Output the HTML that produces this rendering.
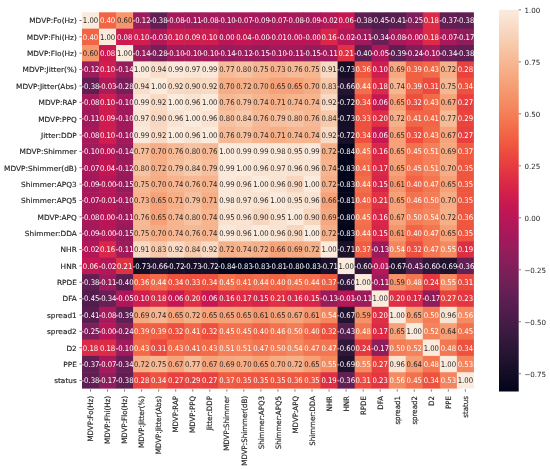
<!DOCTYPE html>
<html><head><meta charset="utf-8"><title>Correlation heatmap</title>
<style>html,body{margin:0;padding:0;background:#fff;width:550px;height:469px;overflow:hidden}svg{display:block;filter:blur(0.3px)}</style>
</head><body>
<svg width="550" height="469" viewBox="0 0 550 469">
<rect width="550" height="469" fill="#fff"/>
<rect x="82.00" y="12.30" width="17.64" height="16.96" fill="#faebdd"/>
<rect x="99.04" y="12.30" width="17.64" height="16.96" fill="#f16445"/>
<rect x="116.08" y="12.30" width="17.64" height="16.96" fill="#f5966c"/>
<rect x="133.12" y="12.30" width="17.64" height="16.96" fill="#9c1b5b"/>
<rect x="150.16" y="12.30" width="17.64" height="16.96" fill="#601f52"/>
<rect x="167.20" y="12.30" width="17.64" height="16.96" fill="#a6195a"/>
<rect x="184.23" y="12.30" width="17.64" height="16.96" fill="#9f1a5b"/>
<rect x="201.27" y="12.30" width="17.64" height="16.96" fill="#a6195a"/>
<rect x="218.31" y="12.30" width="17.64" height="16.96" fill="#a11a5b"/>
<rect x="235.35" y="12.30" width="17.64" height="16.96" fill="#a8185a"/>
<rect x="252.39" y="12.30" width="17.64" height="16.96" fill="#a3195b"/>
<rect x="269.43" y="12.30" width="17.64" height="16.96" fill="#a8185a"/>
<rect x="286.47" y="12.30" width="17.64" height="16.96" fill="#a6195a"/>
<rect x="303.51" y="12.30" width="17.64" height="16.96" fill="#a3195b"/>
<rect x="320.55" y="12.30" width="17.64" height="16.96" fill="#b41658"/>
<rect x="337.59" y="12.30" width="17.64" height="16.96" fill="#c51852"/>
<rect x="354.63" y="12.30" width="17.64" height="16.96" fill="#601f52"/>
<rect x="371.67" y="12.30" width="17.64" height="16.96" fill="#501d4c"/>
<rect x="388.70" y="12.30" width="17.64" height="16.96" fill="#591e50"/>
<rect x="405.74" y="12.30" width="17.64" height="16.96" fill="#7d1f5a"/>
<rect x="422.78" y="12.30" width="17.64" height="16.96" fill="#dc2b46"/>
<rect x="439.82" y="12.30" width="17.64" height="16.96" fill="#611f53"/>
<rect x="456.86" y="12.30" width="17.04" height="16.96" fill="#601f52"/>
<rect x="82.00" y="28.66" width="17.64" height="16.96" fill="#f16445"/>
<rect x="99.04" y="28.66" width="17.64" height="16.96" fill="#faebdd"/>
<rect x="116.08" y="28.66" width="17.64" height="16.96" fill="#ca1a50"/>
<rect x="133.12" y="28.66" width="17.64" height="16.96" fill="#ce1d4e"/>
<rect x="150.16" y="28.66" width="17.64" height="16.96" fill="#b21758"/>
<rect x="167.20" y="28.66" width="17.64" height="16.96" fill="#ce1d4e"/>
<rect x="184.23" y="28.66" width="17.64" height="16.96" fill="#cd1c4e"/>
<rect x="201.27" y="28.66" width="17.64" height="16.96" fill="#ce1d4e"/>
<rect x="218.31" y="28.66" width="17.64" height="16.96" fill="#b91657"/>
<rect x="235.35" y="28.66" width="17.64" height="16.96" fill="#c21753"/>
<rect x="252.39" y="28.66" width="17.64" height="16.96" fill="#b91657"/>
<rect x="269.43" y="28.66" width="17.64" height="16.96" fill="#b71657"/>
<rect x="286.47" y="28.66" width="17.64" height="16.96" fill="#b91657"/>
<rect x="303.51" y="28.66" width="17.64" height="16.96" fill="#b91657"/>
<rect x="320.55" y="28.66" width="17.64" height="16.96" fill="#d82748"/>
<rect x="337.59" y="28.66" width="17.64" height="16.96" fill="#b41658"/>
<rect x="354.63" y="28.66" width="17.64" height="16.96" fill="#9f1a5b"/>
<rect x="371.67" y="28.66" width="17.64" height="16.96" fill="#691f55"/>
<rect x="388.70" y="28.66" width="17.64" height="16.96" fill="#a6195a"/>
<rect x="405.74" y="28.66" width="17.64" height="16.96" fill="#b91657"/>
<rect x="422.78" y="28.66" width="17.64" height="16.96" fill="#dc2b46"/>
<rect x="439.82" y="28.66" width="17.64" height="16.96" fill="#a8185a"/>
<rect x="456.86" y="28.66" width="17.04" height="16.96" fill="#901d5b"/>
<rect x="82.00" y="45.02" width="17.64" height="16.96" fill="#f5966c"/>
<rect x="99.04" y="45.02" width="17.64" height="16.96" fill="#ca1a50"/>
<rect x="116.08" y="45.02" width="17.64" height="16.96" fill="#faebdd"/>
<rect x="133.12" y="45.02" width="17.64" height="16.96" fill="#971c5b"/>
<rect x="150.16" y="45.02" width="17.64" height="16.96" fill="#761f58"/>
<rect x="167.20" y="45.02" width="17.64" height="16.96" fill="#a11a5b"/>
<rect x="184.23" y="45.02" width="17.64" height="16.96" fill="#a11a5b"/>
<rect x="201.27" y="45.02" width="17.64" height="16.96" fill="#a11a5b"/>
<rect x="218.31" y="45.02" width="17.64" height="16.96" fill="#971c5b"/>
<rect x="235.35" y="45.02" width="17.64" height="16.96" fill="#9c1b5b"/>
<rect x="252.39" y="45.02" width="17.64" height="16.96" fill="#951c5b"/>
<rect x="269.43" y="45.02" width="17.64" height="16.96" fill="#a11a5b"/>
<rect x="286.47" y="45.02" width="17.64" height="16.96" fill="#9f1a5b"/>
<rect x="303.51" y="45.02" width="17.64" height="16.96" fill="#951c5b"/>
<rect x="320.55" y="45.02" width="17.64" height="16.96" fill="#9f1a5b"/>
<rect x="337.59" y="45.02" width="17.64" height="16.96" fill="#e03143"/>
<rect x="354.63" y="45.02" width="17.64" height="16.96" fill="#5b1e51"/>
<rect x="371.67" y="45.02" width="17.64" height="16.96" fill="#ad1759"/>
<rect x="388.70" y="45.02" width="17.64" height="16.96" fill="#5e1f52"/>
<rect x="405.74" y="45.02" width="17.64" height="16.96" fill="#811e5a"/>
<rect x="422.78" y="45.02" width="17.64" height="16.96" fill="#a11a5b"/>
<rect x="439.82" y="45.02" width="17.64" height="16.96" fill="#691f55"/>
<rect x="456.86" y="45.02" width="17.04" height="16.96" fill="#601f52"/>
<rect x="82.00" y="61.38" width="17.64" height="16.96" fill="#9c1b5b"/>
<rect x="99.04" y="61.38" width="17.64" height="16.96" fill="#ce1d4e"/>
<rect x="116.08" y="61.38" width="17.64" height="16.96" fill="#971c5b"/>
<rect x="133.12" y="61.38" width="17.64" height="16.96" fill="#faebdd"/>
<rect x="150.16" y="61.38" width="17.64" height="16.96" fill="#f9dfcb"/>
<rect x="167.20" y="61.38" width="17.64" height="16.96" fill="#fae9da"/>
<rect x="184.23" y="61.38" width="17.64" height="16.96" fill="#f9e5d4"/>
<rect x="201.27" y="61.38" width="17.64" height="16.96" fill="#fae9da"/>
<rect x="218.31" y="61.38" width="17.64" height="16.96" fill="#f6bb97"/>
<rect x="235.35" y="61.38" width="17.64" height="16.96" fill="#f7c2a2"/>
<rect x="252.39" y="61.38" width="17.64" height="16.96" fill="#f6b893"/>
<rect x="269.43" y="61.38" width="17.64" height="16.96" fill="#f6b38d"/>
<rect x="286.47" y="61.38" width="17.64" height="16.96" fill="#f6b995"/>
<rect x="303.51" y="61.38" width="17.64" height="16.96" fill="#f6b893"/>
<rect x="320.55" y="61.38" width="17.64" height="16.96" fill="#f8d9c3"/>
<rect x="337.59" y="61.38" width="17.64" height="16.96" fill="#160e27"/>
<rect x="354.63" y="61.38" width="17.64" height="16.96" fill="#ef5840"/>
<rect x="371.67" y="61.38" width="17.64" height="16.96" fill="#ce1d4e"/>
<rect x="388.70" y="61.38" width="17.64" height="16.96" fill="#f6a981"/>
<rect x="405.74" y="61.38" width="17.64" height="16.96" fill="#f06043"/>
<rect x="422.78" y="61.38" width="17.64" height="16.96" fill="#f26b49"/>
<rect x="439.82" y="61.38" width="17.64" height="16.96" fill="#f6b089"/>
<rect x="456.86" y="61.38" width="17.04" height="16.96" fill="#e9423e"/>
<rect x="82.00" y="77.74" width="17.64" height="16.96" fill="#601f52"/>
<rect x="99.04" y="77.74" width="17.64" height="16.96" fill="#b21758"/>
<rect x="116.08" y="77.74" width="17.64" height="16.96" fill="#761f58"/>
<rect x="133.12" y="77.74" width="17.64" height="16.96" fill="#f9dfcb"/>
<rect x="150.16" y="77.74" width="17.64" height="16.96" fill="#faebdd"/>
<rect x="167.20" y="77.74" width="17.64" height="16.96" fill="#f8dac5"/>
<rect x="184.23" y="77.74" width="17.64" height="16.96" fill="#f8d7c0"/>
<rect x="201.27" y="77.74" width="17.64" height="16.96" fill="#f8dac5"/>
<rect x="218.31" y="77.74" width="17.64" height="16.96" fill="#f6ad85"/>
<rect x="235.35" y="77.74" width="17.64" height="16.96" fill="#f6b089"/>
<rect x="252.39" y="77.74" width="17.64" height="16.96" fill="#f6ad85"/>
<rect x="269.43" y="77.74" width="17.64" height="16.96" fill="#f6a178"/>
<rect x="286.47" y="77.74" width="17.64" height="16.96" fill="#f6a178"/>
<rect x="303.51" y="77.74" width="17.64" height="16.96" fill="#f6ad85"/>
<rect x="320.55" y="77.74" width="17.64" height="16.96" fill="#f7c9aa"/>
<rect x="337.59" y="77.74" width="17.64" height="16.96" fill="#241432"/>
<rect x="354.63" y="77.74" width="17.64" height="16.96" fill="#f26d4b"/>
<rect x="371.67" y="77.74" width="17.64" height="16.96" fill="#dc2b46"/>
<rect x="388.70" y="77.74" width="17.64" height="16.96" fill="#f6b48f"/>
<rect x="405.74" y="77.74" width="17.64" height="16.96" fill="#f06043"/>
<rect x="422.78" y="77.74" width="17.64" height="16.96" fill="#ec4a3e"/>
<rect x="439.82" y="77.74" width="17.64" height="16.96" fill="#f6b893"/>
<rect x="456.86" y="77.74" width="17.04" height="16.96" fill="#ee523f"/>
<rect x="82.00" y="94.10" width="17.64" height="16.96" fill="#a6195a"/>
<rect x="99.04" y="94.10" width="17.64" height="16.96" fill="#ce1d4e"/>
<rect x="116.08" y="94.10" width="17.64" height="16.96" fill="#a11a5b"/>
<rect x="133.12" y="94.10" width="17.64" height="16.96" fill="#fae9da"/>
<rect x="150.16" y="94.10" width="17.64" height="16.96" fill="#f8dac5"/>
<rect x="167.20" y="94.10" width="17.64" height="16.96" fill="#faebdd"/>
<rect x="184.23" y="94.10" width="17.64" height="16.96" fill="#f9e3d2"/>
<rect x="201.27" y="94.10" width="17.64" height="16.96" fill="#faebdd"/>
<rect x="218.31" y="94.10" width="17.64" height="16.96" fill="#f6b995"/>
<rect x="235.35" y="94.10" width="17.64" height="16.96" fill="#f6bf9d"/>
<rect x="252.39" y="94.10" width="17.64" height="16.96" fill="#f6b48f"/>
<rect x="269.43" y="94.10" width="17.64" height="16.96" fill="#f6ae87"/>
<rect x="286.47" y="94.10" width="17.64" height="16.96" fill="#f6b48f"/>
<rect x="303.51" y="94.10" width="17.64" height="16.96" fill="#f6b48f"/>
<rect x="320.55" y="94.10" width="17.64" height="16.96" fill="#f8dac5"/>
<rect x="337.59" y="94.10" width="17.64" height="16.96" fill="#180f29"/>
<rect x="354.63" y="94.10" width="17.64" height="16.96" fill="#ee523f"/>
<rect x="371.67" y="94.10" width="17.64" height="16.96" fill="#c51852"/>
<rect x="388.70" y="94.10" width="17.64" height="16.96" fill="#f6a178"/>
<rect x="405.74" y="94.10" width="17.64" height="16.96" fill="#ed4e3e"/>
<rect x="422.78" y="94.10" width="17.64" height="16.96" fill="#f26b49"/>
<rect x="439.82" y="94.10" width="17.64" height="16.96" fill="#f6a47c"/>
<rect x="456.86" y="94.10" width="17.04" height="16.96" fill="#e8403e"/>
<rect x="82.00" y="110.47" width="17.64" height="16.96" fill="#9f1a5b"/>
<rect x="99.04" y="110.47" width="17.64" height="16.96" fill="#cd1c4e"/>
<rect x="116.08" y="110.47" width="17.64" height="16.96" fill="#a11a5b"/>
<rect x="133.12" y="110.47" width="17.64" height="16.96" fill="#f9e5d4"/>
<rect x="150.16" y="110.47" width="17.64" height="16.96" fill="#f8d7c0"/>
<rect x="167.20" y="110.47" width="17.64" height="16.96" fill="#f9e3d2"/>
<rect x="184.23" y="110.47" width="17.64" height="16.96" fill="#faebdd"/>
<rect x="201.27" y="110.47" width="17.64" height="16.96" fill="#f9e3d2"/>
<rect x="218.31" y="110.47" width="17.64" height="16.96" fill="#f7c2a2"/>
<rect x="235.35" y="110.47" width="17.64" height="16.96" fill="#f7caac"/>
<rect x="252.39" y="110.47" width="17.64" height="16.96" fill="#f6b995"/>
<rect x="269.43" y="110.47" width="17.64" height="16.96" fill="#f6bf9d"/>
<rect x="286.47" y="110.47" width="17.64" height="16.96" fill="#f7c2a2"/>
<rect x="303.51" y="110.47" width="17.64" height="16.96" fill="#f6b995"/>
<rect x="320.55" y="110.47" width="17.64" height="16.96" fill="#f7caac"/>
<rect x="337.59" y="110.47" width="17.64" height="16.96" fill="#160e27"/>
<rect x="354.63" y="110.47" width="17.64" height="16.96" fill="#ed503e"/>
<rect x="371.67" y="110.47" width="17.64" height="16.96" fill="#df2f44"/>
<rect x="388.70" y="110.47" width="17.64" height="16.96" fill="#f6b089"/>
<rect x="405.74" y="110.47" width="17.64" height="16.96" fill="#f16646"/>
<rect x="422.78" y="110.47" width="17.64" height="16.96" fill="#f16646"/>
<rect x="439.82" y="110.47" width="17.64" height="16.96" fill="#f6bb97"/>
<rect x="456.86" y="110.47" width="17.04" height="16.96" fill="#ea443e"/>
<rect x="82.00" y="126.83" width="17.64" height="16.96" fill="#a6195a"/>
<rect x="99.04" y="126.83" width="17.64" height="16.96" fill="#ce1d4e"/>
<rect x="116.08" y="126.83" width="17.64" height="16.96" fill="#a11a5b"/>
<rect x="133.12" y="126.83" width="17.64" height="16.96" fill="#fae9da"/>
<rect x="150.16" y="126.83" width="17.64" height="16.96" fill="#f8dac5"/>
<rect x="167.20" y="126.83" width="17.64" height="16.96" fill="#faebdd"/>
<rect x="184.23" y="126.83" width="17.64" height="16.96" fill="#f9e3d2"/>
<rect x="201.27" y="126.83" width="17.64" height="16.96" fill="#faebdd"/>
<rect x="218.31" y="126.83" width="17.64" height="16.96" fill="#f6b995"/>
<rect x="235.35" y="126.83" width="17.64" height="16.96" fill="#f6bf9d"/>
<rect x="252.39" y="126.83" width="17.64" height="16.96" fill="#f6b48f"/>
<rect x="269.43" y="126.83" width="17.64" height="16.96" fill="#f6ae87"/>
<rect x="286.47" y="126.83" width="17.64" height="16.96" fill="#f6b48f"/>
<rect x="303.51" y="126.83" width="17.64" height="16.96" fill="#f6b48f"/>
<rect x="320.55" y="126.83" width="17.64" height="16.96" fill="#f8dac5"/>
<rect x="337.59" y="126.83" width="17.64" height="16.96" fill="#180f29"/>
<rect x="354.63" y="126.83" width="17.64" height="16.96" fill="#ee523f"/>
<rect x="371.67" y="126.83" width="17.64" height="16.96" fill="#c51852"/>
<rect x="388.70" y="126.83" width="17.64" height="16.96" fill="#f6a178"/>
<rect x="405.74" y="126.83" width="17.64" height="16.96" fill="#ed4e3e"/>
<rect x="422.78" y="126.83" width="17.64" height="16.96" fill="#f26b49"/>
<rect x="439.82" y="126.83" width="17.64" height="16.96" fill="#f6a47c"/>
<rect x="456.86" y="126.83" width="17.04" height="16.96" fill="#e8403e"/>
<rect x="82.00" y="143.19" width="17.64" height="16.96" fill="#a11a5b"/>
<rect x="99.04" y="143.19" width="17.64" height="16.96" fill="#b91657"/>
<rect x="116.08" y="143.19" width="17.64" height="16.96" fill="#971c5b"/>
<rect x="133.12" y="143.19" width="17.64" height="16.96" fill="#f6bb97"/>
<rect x="150.16" y="143.19" width="17.64" height="16.96" fill="#f6ad85"/>
<rect x="167.20" y="143.19" width="17.64" height="16.96" fill="#f6b995"/>
<rect x="184.23" y="143.19" width="17.64" height="16.96" fill="#f7c2a2"/>
<rect x="201.27" y="143.19" width="17.64" height="16.96" fill="#f6b995"/>
<rect x="218.31" y="143.19" width="17.64" height="16.96" fill="#faebdd"/>
<rect x="235.35" y="143.19" width="17.64" height="16.96" fill="#fae9da"/>
<rect x="252.39" y="143.19" width="17.64" height="16.96" fill="#fae9da"/>
<rect x="269.43" y="143.19" width="17.64" height="16.96" fill="#fae8d8"/>
<rect x="286.47" y="143.19" width="17.64" height="16.96" fill="#f9e2d0"/>
<rect x="303.51" y="143.19" width="17.64" height="16.96" fill="#fae9da"/>
<rect x="320.55" y="143.19" width="17.64" height="16.96" fill="#f6b089"/>
<rect x="337.59" y="143.19" width="17.64" height="16.96" fill="#03051a"/>
<rect x="354.63" y="143.19" width="17.64" height="16.96" fill="#f3714d"/>
<rect x="371.67" y="143.19" width="17.64" height="16.96" fill="#d82748"/>
<rect x="388.70" y="143.19" width="17.64" height="16.96" fill="#f6a178"/>
<rect x="405.74" y="143.19" width="17.64" height="16.96" fill="#f3714d"/>
<rect x="422.78" y="143.19" width="17.64" height="16.96" fill="#f47f58"/>
<rect x="439.82" y="143.19" width="17.64" height="16.96" fill="#f6a981"/>
<rect x="456.86" y="143.19" width="17.04" height="16.96" fill="#f05c42"/>
<rect x="82.00" y="159.55" width="17.64" height="16.96" fill="#a8185a"/>
<rect x="99.04" y="159.55" width="17.64" height="16.96" fill="#c21753"/>
<rect x="116.08" y="159.55" width="17.64" height="16.96" fill="#9c1b5b"/>
<rect x="133.12" y="159.55" width="17.64" height="16.96" fill="#f7c2a2"/>
<rect x="150.16" y="159.55" width="17.64" height="16.96" fill="#f6b089"/>
<rect x="167.20" y="159.55" width="17.64" height="16.96" fill="#f6bf9d"/>
<rect x="184.23" y="159.55" width="17.64" height="16.96" fill="#f7caac"/>
<rect x="201.27" y="159.55" width="17.64" height="16.96" fill="#f6bf9d"/>
<rect x="218.31" y="159.55" width="17.64" height="16.96" fill="#fae9da"/>
<rect x="235.35" y="159.55" width="17.64" height="16.96" fill="#faebdd"/>
<rect x="252.39" y="159.55" width="17.64" height="16.96" fill="#f9e3d2"/>
<rect x="269.43" y="159.55" width="17.64" height="16.96" fill="#f9e5d4"/>
<rect x="286.47" y="159.55" width="17.64" height="16.96" fill="#f9e3d2"/>
<rect x="303.51" y="159.55" width="17.64" height="16.96" fill="#f9e3d2"/>
<rect x="320.55" y="159.55" width="17.64" height="16.96" fill="#f6b48f"/>
<rect x="337.59" y="159.55" width="17.64" height="16.96" fill="#03051a"/>
<rect x="354.63" y="159.55" width="17.64" height="16.96" fill="#f16646"/>
<rect x="371.67" y="159.55" width="17.64" height="16.96" fill="#db2946"/>
<rect x="388.70" y="159.55" width="17.64" height="16.96" fill="#f6a178"/>
<rect x="405.74" y="159.55" width="17.64" height="16.96" fill="#f3714d"/>
<rect x="422.78" y="159.55" width="17.64" height="16.96" fill="#f47f58"/>
<rect x="439.82" y="159.55" width="17.64" height="16.96" fill="#f6ad85"/>
<rect x="456.86" y="159.55" width="17.04" height="16.96" fill="#ef5640"/>
<rect x="82.00" y="175.91" width="17.64" height="16.96" fill="#a3195b"/>
<rect x="99.04" y="175.91" width="17.64" height="16.96" fill="#b91657"/>
<rect x="116.08" y="175.91" width="17.64" height="16.96" fill="#951c5b"/>
<rect x="133.12" y="175.91" width="17.64" height="16.96" fill="#f6b893"/>
<rect x="150.16" y="175.91" width="17.64" height="16.96" fill="#f6ad85"/>
<rect x="167.20" y="175.91" width="17.64" height="16.96" fill="#f6b48f"/>
<rect x="184.23" y="175.91" width="17.64" height="16.96" fill="#f6b995"/>
<rect x="201.27" y="175.91" width="17.64" height="16.96" fill="#f6b48f"/>
<rect x="218.31" y="175.91" width="17.64" height="16.96" fill="#fae9da"/>
<rect x="235.35" y="175.91" width="17.64" height="16.96" fill="#f9e3d2"/>
<rect x="252.39" y="175.91" width="17.64" height="16.96" fill="#faebdd"/>
<rect x="269.43" y="175.91" width="17.64" height="16.96" fill="#f9e3d2"/>
<rect x="286.47" y="175.91" width="17.64" height="16.96" fill="#f8d7c0"/>
<rect x="303.51" y="175.91" width="17.64" height="16.96" fill="#faebdd"/>
<rect x="320.55" y="175.91" width="17.64" height="16.96" fill="#f6b089"/>
<rect x="337.59" y="175.91" width="17.64" height="16.96" fill="#03051a"/>
<rect x="354.63" y="175.91" width="17.64" height="16.96" fill="#f26d4b"/>
<rect x="371.67" y="175.91" width="17.64" height="16.96" fill="#d72549"/>
<rect x="388.70" y="175.91" width="17.64" height="16.96" fill="#f5976e"/>
<rect x="405.74" y="175.91" width="17.64" height="16.96" fill="#f16445"/>
<rect x="422.78" y="175.91" width="17.64" height="16.96" fill="#f37651"/>
<rect x="439.82" y="175.91" width="17.64" height="16.96" fill="#f6a178"/>
<rect x="456.86" y="175.91" width="17.04" height="16.96" fill="#ef5640"/>
<rect x="82.00" y="192.27" width="17.64" height="16.96" fill="#a8185a"/>
<rect x="99.04" y="192.27" width="17.64" height="16.96" fill="#b71657"/>
<rect x="116.08" y="192.27" width="17.64" height="16.96" fill="#a11a5b"/>
<rect x="133.12" y="192.27" width="17.64" height="16.96" fill="#f6b38d"/>
<rect x="150.16" y="192.27" width="17.64" height="16.96" fill="#f6a178"/>
<rect x="167.20" y="192.27" width="17.64" height="16.96" fill="#f6ae87"/>
<rect x="184.23" y="192.27" width="17.64" height="16.96" fill="#f6bf9d"/>
<rect x="201.27" y="192.27" width="17.64" height="16.96" fill="#f6ae87"/>
<rect x="218.31" y="192.27" width="17.64" height="16.96" fill="#fae8d8"/>
<rect x="235.35" y="192.27" width="17.64" height="16.96" fill="#f9e5d4"/>
<rect x="252.39" y="192.27" width="17.64" height="16.96" fill="#f9e3d2"/>
<rect x="269.43" y="192.27" width="17.64" height="16.96" fill="#faebdd"/>
<rect x="286.47" y="192.27" width="17.64" height="16.96" fill="#f9e2d0"/>
<rect x="303.51" y="192.27" width="17.64" height="16.96" fill="#f9e3d2"/>
<rect x="320.55" y="192.27" width="17.64" height="16.96" fill="#f6a37a"/>
<rect x="337.59" y="192.27" width="17.64" height="16.96" fill="#06071c"/>
<rect x="354.63" y="192.27" width="17.64" height="16.96" fill="#f16445"/>
<rect x="371.67" y="192.27" width="17.64" height="16.96" fill="#e03143"/>
<rect x="388.70" y="192.27" width="17.64" height="16.96" fill="#f6a178"/>
<rect x="405.74" y="192.27" width="17.64" height="16.96" fill="#f3734e"/>
<rect x="422.78" y="192.27" width="17.64" height="16.96" fill="#f47d57"/>
<rect x="439.82" y="192.27" width="17.64" height="16.96" fill="#f6ad85"/>
<rect x="456.86" y="192.27" width="17.04" height="16.96" fill="#ef5640"/>
<rect x="82.00" y="208.63" width="17.64" height="16.96" fill="#a6195a"/>
<rect x="99.04" y="208.63" width="17.64" height="16.96" fill="#b91657"/>
<rect x="116.08" y="208.63" width="17.64" height="16.96" fill="#9f1a5b"/>
<rect x="133.12" y="208.63" width="17.64" height="16.96" fill="#f6b995"/>
<rect x="150.16" y="208.63" width="17.64" height="16.96" fill="#f6a178"/>
<rect x="167.20" y="208.63" width="17.64" height="16.96" fill="#f6b48f"/>
<rect x="184.23" y="208.63" width="17.64" height="16.96" fill="#f7c2a2"/>
<rect x="201.27" y="208.63" width="17.64" height="16.96" fill="#f6b48f"/>
<rect x="218.31" y="208.63" width="17.64" height="16.96" fill="#f9e2d0"/>
<rect x="235.35" y="208.63" width="17.64" height="16.96" fill="#f9e3d2"/>
<rect x="252.39" y="208.63" width="17.64" height="16.96" fill="#f8d7c0"/>
<rect x="269.43" y="208.63" width="17.64" height="16.96" fill="#f9e2d0"/>
<rect x="286.47" y="208.63" width="17.64" height="16.96" fill="#faebdd"/>
<rect x="303.51" y="208.63" width="17.64" height="16.96" fill="#f8d7c0"/>
<rect x="320.55" y="208.63" width="17.64" height="16.96" fill="#f6a981"/>
<rect x="337.59" y="208.63" width="17.64" height="16.96" fill="#07071d"/>
<rect x="354.63" y="208.63" width="17.64" height="16.96" fill="#f3714d"/>
<rect x="371.67" y="208.63" width="17.64" height="16.96" fill="#d82748"/>
<rect x="388.70" y="208.63" width="17.64" height="16.96" fill="#f6a47c"/>
<rect x="405.74" y="208.63" width="17.64" height="16.96" fill="#f47d57"/>
<rect x="422.78" y="208.63" width="17.64" height="16.96" fill="#f4865e"/>
<rect x="439.82" y="208.63" width="17.64" height="16.96" fill="#f6b089"/>
<rect x="456.86" y="208.63" width="17.04" height="16.96" fill="#ef5840"/>
<rect x="82.00" y="224.99" width="17.64" height="16.96" fill="#a3195b"/>
<rect x="99.04" y="224.99" width="17.64" height="16.96" fill="#b91657"/>
<rect x="116.08" y="224.99" width="17.64" height="16.96" fill="#951c5b"/>
<rect x="133.12" y="224.99" width="17.64" height="16.96" fill="#f6b893"/>
<rect x="150.16" y="224.99" width="17.64" height="16.96" fill="#f6ad85"/>
<rect x="167.20" y="224.99" width="17.64" height="16.96" fill="#f6b48f"/>
<rect x="184.23" y="224.99" width="17.64" height="16.96" fill="#f6b995"/>
<rect x="201.27" y="224.99" width="17.64" height="16.96" fill="#f6b48f"/>
<rect x="218.31" y="224.99" width="17.64" height="16.96" fill="#fae9da"/>
<rect x="235.35" y="224.99" width="17.64" height="16.96" fill="#f9e3d2"/>
<rect x="252.39" y="224.99" width="17.64" height="16.96" fill="#faebdd"/>
<rect x="269.43" y="224.99" width="17.64" height="16.96" fill="#f9e3d2"/>
<rect x="286.47" y="224.99" width="17.64" height="16.96" fill="#f8d7c0"/>
<rect x="303.51" y="224.99" width="17.64" height="16.96" fill="#faebdd"/>
<rect x="320.55" y="224.99" width="17.64" height="16.96" fill="#f6b089"/>
<rect x="337.59" y="224.99" width="17.64" height="16.96" fill="#03051a"/>
<rect x="354.63" y="224.99" width="17.64" height="16.96" fill="#f26d4b"/>
<rect x="371.67" y="224.99" width="17.64" height="16.96" fill="#d72549"/>
<rect x="388.70" y="224.99" width="17.64" height="16.96" fill="#f5976e"/>
<rect x="405.74" y="224.99" width="17.64" height="16.96" fill="#f16445"/>
<rect x="422.78" y="224.99" width="17.64" height="16.96" fill="#f37651"/>
<rect x="439.82" y="224.99" width="17.64" height="16.96" fill="#f6a178"/>
<rect x="456.86" y="224.99" width="17.04" height="16.96" fill="#ef5640"/>
<rect x="82.00" y="241.35" width="17.64" height="16.96" fill="#b41658"/>
<rect x="99.04" y="241.35" width="17.64" height="16.96" fill="#d82748"/>
<rect x="116.08" y="241.35" width="17.64" height="16.96" fill="#9f1a5b"/>
<rect x="133.12" y="241.35" width="17.64" height="16.96" fill="#f8d9c3"/>
<rect x="150.16" y="241.35" width="17.64" height="16.96" fill="#f7c9aa"/>
<rect x="167.20" y="241.35" width="17.64" height="16.96" fill="#f8dac5"/>
<rect x="184.23" y="241.35" width="17.64" height="16.96" fill="#f7caac"/>
<rect x="201.27" y="241.35" width="17.64" height="16.96" fill="#f8dac5"/>
<rect x="218.31" y="241.35" width="17.64" height="16.96" fill="#f6b089"/>
<rect x="235.35" y="241.35" width="17.64" height="16.96" fill="#f6b48f"/>
<rect x="252.39" y="241.35" width="17.64" height="16.96" fill="#f6b089"/>
<rect x="269.43" y="241.35" width="17.64" height="16.96" fill="#f6a37a"/>
<rect x="286.47" y="241.35" width="17.64" height="16.96" fill="#f6a981"/>
<rect x="303.51" y="241.35" width="17.64" height="16.96" fill="#f6b089"/>
<rect x="320.55" y="241.35" width="17.64" height="16.96" fill="#faebdd"/>
<rect x="337.59" y="241.35" width="17.64" height="16.96" fill="#1a102a"/>
<rect x="354.63" y="241.35" width="17.64" height="16.96" fill="#f05c42"/>
<rect x="371.67" y="241.35" width="17.64" height="16.96" fill="#9a1b5b"/>
<rect x="388.70" y="241.35" width="17.64" height="16.96" fill="#f4865e"/>
<rect x="405.74" y="241.35" width="17.64" height="16.96" fill="#ed4e3e"/>
<rect x="422.78" y="241.35" width="17.64" height="16.96" fill="#f37651"/>
<rect x="439.82" y="241.35" width="17.64" height="16.96" fill="#f58a61"/>
<rect x="456.86" y="241.35" width="17.04" height="16.96" fill="#de2e44"/>
<rect x="82.00" y="257.71" width="17.64" height="16.96" fill="#c51852"/>
<rect x="99.04" y="257.71" width="17.64" height="16.96" fill="#b41658"/>
<rect x="116.08" y="257.71" width="17.64" height="16.96" fill="#e03143"/>
<rect x="133.12" y="257.71" width="17.64" height="16.96" fill="#160e27"/>
<rect x="150.16" y="257.71" width="17.64" height="16.96" fill="#241432"/>
<rect x="167.20" y="257.71" width="17.64" height="16.96" fill="#180f29"/>
<rect x="184.23" y="257.71" width="17.64" height="16.96" fill="#160e27"/>
<rect x="201.27" y="257.71" width="17.64" height="16.96" fill="#180f29"/>
<rect x="218.31" y="257.71" width="17.64" height="16.96" fill="#03051a"/>
<rect x="235.35" y="257.71" width="17.64" height="16.96" fill="#03051a"/>
<rect x="252.39" y="257.71" width="17.64" height="16.96" fill="#03051a"/>
<rect x="269.43" y="257.71" width="17.64" height="16.96" fill="#06071c"/>
<rect x="286.47" y="257.71" width="17.64" height="16.96" fill="#07071d"/>
<rect x="303.51" y="257.71" width="17.64" height="16.96" fill="#03051a"/>
<rect x="320.55" y="257.71" width="17.64" height="16.96" fill="#1a102a"/>
<rect x="337.59" y="257.71" width="17.64" height="16.96" fill="#faebdd"/>
<rect x="354.63" y="257.71" width="17.64" height="16.96" fill="#30173a"/>
<rect x="371.67" y="257.71" width="17.64" height="16.96" fill="#b71657"/>
<rect x="388.70" y="257.71" width="17.64" height="16.96" fill="#221331"/>
<rect x="405.74" y="257.71" width="17.64" height="16.96" fill="#541e4e"/>
<rect x="422.78" y="257.71" width="17.64" height="16.96" fill="#30173a"/>
<rect x="439.82" y="257.71" width="17.64" height="16.96" fill="#1e122d"/>
<rect x="456.86" y="257.71" width="17.04" height="16.96" fill="#641f54"/>
<rect x="82.00" y="274.07" width="17.64" height="16.96" fill="#601f52"/>
<rect x="99.04" y="274.07" width="17.64" height="16.96" fill="#9f1a5b"/>
<rect x="116.08" y="274.07" width="17.64" height="16.96" fill="#5b1e51"/>
<rect x="133.12" y="274.07" width="17.64" height="16.96" fill="#ef5840"/>
<rect x="150.16" y="274.07" width="17.64" height="16.96" fill="#f26d4b"/>
<rect x="167.20" y="274.07" width="17.64" height="16.96" fill="#ee523f"/>
<rect x="184.23" y="274.07" width="17.64" height="16.96" fill="#ed503e"/>
<rect x="201.27" y="274.07" width="17.64" height="16.96" fill="#ee523f"/>
<rect x="218.31" y="274.07" width="17.64" height="16.96" fill="#f3714d"/>
<rect x="235.35" y="274.07" width="17.64" height="16.96" fill="#f16646"/>
<rect x="252.39" y="274.07" width="17.64" height="16.96" fill="#f26d4b"/>
<rect x="269.43" y="274.07" width="17.64" height="16.96" fill="#f16445"/>
<rect x="286.47" y="274.07" width="17.64" height="16.96" fill="#f3714d"/>
<rect x="303.51" y="274.07" width="17.64" height="16.96" fill="#f26d4b"/>
<rect x="320.55" y="274.07" width="17.64" height="16.96" fill="#f05c42"/>
<rect x="337.59" y="274.07" width="17.64" height="16.96" fill="#30173a"/>
<rect x="354.63" y="274.07" width="17.64" height="16.96" fill="#faebdd"/>
<rect x="371.67" y="274.07" width="17.64" height="16.96" fill="#9f1a5b"/>
<rect x="388.70" y="274.07" width="17.64" height="16.96" fill="#f59269"/>
<rect x="405.74" y="274.07" width="17.64" height="16.96" fill="#f37852"/>
<rect x="422.78" y="274.07" width="17.64" height="16.96" fill="#e43841"/>
<rect x="439.82" y="274.07" width="17.64" height="16.96" fill="#f58a61"/>
<rect x="456.86" y="274.07" width="17.04" height="16.96" fill="#ec4a3e"/>
<rect x="82.00" y="290.43" width="17.64" height="16.96" fill="#501d4c"/>
<rect x="99.04" y="290.43" width="17.64" height="16.96" fill="#691f55"/>
<rect x="116.08" y="290.43" width="17.64" height="16.96" fill="#ad1759"/>
<rect x="133.12" y="290.43" width="17.64" height="16.96" fill="#ce1d4e"/>
<rect x="150.16" y="290.43" width="17.64" height="16.96" fill="#dc2b46"/>
<rect x="167.20" y="290.43" width="17.64" height="16.96" fill="#c51852"/>
<rect x="184.23" y="290.43" width="17.64" height="16.96" fill="#df2f44"/>
<rect x="201.27" y="290.43" width="17.64" height="16.96" fill="#c51852"/>
<rect x="218.31" y="290.43" width="17.64" height="16.96" fill="#d82748"/>
<rect x="235.35" y="290.43" width="17.64" height="16.96" fill="#db2946"/>
<rect x="252.39" y="290.43" width="17.64" height="16.96" fill="#d72549"/>
<rect x="269.43" y="290.43" width="17.64" height="16.96" fill="#e03143"/>
<rect x="286.47" y="290.43" width="17.64" height="16.96" fill="#d82748"/>
<rect x="303.51" y="290.43" width="17.64" height="16.96" fill="#d72549"/>
<rect x="320.55" y="290.43" width="17.64" height="16.96" fill="#9a1b5b"/>
<rect x="337.59" y="290.43" width="17.64" height="16.96" fill="#b71657"/>
<rect x="354.63" y="290.43" width="17.64" height="16.96" fill="#9f1a5b"/>
<rect x="371.67" y="290.43" width="17.64" height="16.96" fill="#faebdd"/>
<rect x="388.70" y="290.43" width="17.64" height="16.96" fill="#df2f44"/>
<rect x="405.74" y="290.43" width="17.64" height="16.96" fill="#db2946"/>
<rect x="422.78" y="290.43" width="17.64" height="16.96" fill="#901d5b"/>
<rect x="439.82" y="290.43" width="17.64" height="16.96" fill="#e8403e"/>
<rect x="456.86" y="290.43" width="17.04" height="16.96" fill="#e33641"/>
<rect x="82.00" y="306.80" width="17.64" height="16.96" fill="#591e50"/>
<rect x="99.04" y="306.80" width="17.64" height="16.96" fill="#a6195a"/>
<rect x="116.08" y="306.80" width="17.64" height="16.96" fill="#5e1f52"/>
<rect x="133.12" y="306.80" width="17.64" height="16.96" fill="#f6a981"/>
<rect x="150.16" y="306.80" width="17.64" height="16.96" fill="#f6b48f"/>
<rect x="167.20" y="306.80" width="17.64" height="16.96" fill="#f6a178"/>
<rect x="184.23" y="306.80" width="17.64" height="16.96" fill="#f6b089"/>
<rect x="201.27" y="306.80" width="17.64" height="16.96" fill="#f6a178"/>
<rect x="218.31" y="306.80" width="17.64" height="16.96" fill="#f6a178"/>
<rect x="235.35" y="306.80" width="17.64" height="16.96" fill="#f6a178"/>
<rect x="252.39" y="306.80" width="17.64" height="16.96" fill="#f5976e"/>
<rect x="269.43" y="306.80" width="17.64" height="16.96" fill="#f6a178"/>
<rect x="286.47" y="306.80" width="17.64" height="16.96" fill="#f6a47c"/>
<rect x="303.51" y="306.80" width="17.64" height="16.96" fill="#f5976e"/>
<rect x="320.55" y="306.80" width="17.64" height="16.96" fill="#f4865e"/>
<rect x="337.59" y="306.80" width="17.64" height="16.96" fill="#221331"/>
<rect x="354.63" y="306.80" width="17.64" height="16.96" fill="#f59269"/>
<rect x="371.67" y="306.80" width="17.64" height="16.96" fill="#df2f44"/>
<rect x="388.70" y="306.80" width="17.64" height="16.96" fill="#faebdd"/>
<rect x="405.74" y="306.80" width="17.64" height="16.96" fill="#f6a178"/>
<rect x="422.78" y="306.80" width="17.64" height="16.96" fill="#f47d57"/>
<rect x="439.82" y="306.80" width="17.64" height="16.96" fill="#f9e3d2"/>
<rect x="456.86" y="306.80" width="17.04" height="16.96" fill="#f58b63"/>
<rect x="82.00" y="323.16" width="17.64" height="16.96" fill="#7d1f5a"/>
<rect x="99.04" y="323.16" width="17.64" height="16.96" fill="#b91657"/>
<rect x="116.08" y="323.16" width="17.64" height="16.96" fill="#811e5a"/>
<rect x="133.12" y="323.16" width="17.64" height="16.96" fill="#f06043"/>
<rect x="150.16" y="323.16" width="17.64" height="16.96" fill="#f06043"/>
<rect x="167.20" y="323.16" width="17.64" height="16.96" fill="#ed4e3e"/>
<rect x="184.23" y="323.16" width="17.64" height="16.96" fill="#f16646"/>
<rect x="201.27" y="323.16" width="17.64" height="16.96" fill="#ed4e3e"/>
<rect x="218.31" y="323.16" width="17.64" height="16.96" fill="#f3714d"/>
<rect x="235.35" y="323.16" width="17.64" height="16.96" fill="#f3714d"/>
<rect x="252.39" y="323.16" width="17.64" height="16.96" fill="#f16445"/>
<rect x="269.43" y="323.16" width="17.64" height="16.96" fill="#f3734e"/>
<rect x="286.47" y="323.16" width="17.64" height="16.96" fill="#f47d57"/>
<rect x="303.51" y="323.16" width="17.64" height="16.96" fill="#f16445"/>
<rect x="320.55" y="323.16" width="17.64" height="16.96" fill="#ed4e3e"/>
<rect x="337.59" y="323.16" width="17.64" height="16.96" fill="#541e4e"/>
<rect x="354.63" y="323.16" width="17.64" height="16.96" fill="#f37852"/>
<rect x="371.67" y="323.16" width="17.64" height="16.96" fill="#db2946"/>
<rect x="388.70" y="323.16" width="17.64" height="16.96" fill="#f6a178"/>
<rect x="405.74" y="323.16" width="17.64" height="16.96" fill="#faebdd"/>
<rect x="422.78" y="323.16" width="17.64" height="16.96" fill="#f4835b"/>
<rect x="439.82" y="323.16" width="17.64" height="16.96" fill="#f69e75"/>
<rect x="456.86" y="323.16" width="17.04" height="16.96" fill="#f3714d"/>
<rect x="82.00" y="339.52" width="17.64" height="16.96" fill="#dc2b46"/>
<rect x="99.04" y="339.52" width="17.64" height="16.96" fill="#dc2b46"/>
<rect x="116.08" y="339.52" width="17.64" height="16.96" fill="#a11a5b"/>
<rect x="133.12" y="339.52" width="17.64" height="16.96" fill="#f26b49"/>
<rect x="150.16" y="339.52" width="17.64" height="16.96" fill="#ec4a3e"/>
<rect x="167.20" y="339.52" width="17.64" height="16.96" fill="#f26b49"/>
<rect x="184.23" y="339.52" width="17.64" height="16.96" fill="#f16646"/>
<rect x="201.27" y="339.52" width="17.64" height="16.96" fill="#f26b49"/>
<rect x="218.31" y="339.52" width="17.64" height="16.96" fill="#f47f58"/>
<rect x="235.35" y="339.52" width="17.64" height="16.96" fill="#f47f58"/>
<rect x="252.39" y="339.52" width="17.64" height="16.96" fill="#f37651"/>
<rect x="269.43" y="339.52" width="17.64" height="16.96" fill="#f47d57"/>
<rect x="286.47" y="339.52" width="17.64" height="16.96" fill="#f4865e"/>
<rect x="303.51" y="339.52" width="17.64" height="16.96" fill="#f37651"/>
<rect x="320.55" y="339.52" width="17.64" height="16.96" fill="#f37651"/>
<rect x="337.59" y="339.52" width="17.64" height="16.96" fill="#30173a"/>
<rect x="354.63" y="339.52" width="17.64" height="16.96" fill="#e43841"/>
<rect x="371.67" y="339.52" width="17.64" height="16.96" fill="#901d5b"/>
<rect x="388.70" y="339.52" width="17.64" height="16.96" fill="#f47d57"/>
<rect x="405.74" y="339.52" width="17.64" height="16.96" fill="#f4835b"/>
<rect x="422.78" y="339.52" width="17.64" height="16.96" fill="#faebdd"/>
<rect x="439.82" y="339.52" width="17.64" height="16.96" fill="#f37852"/>
<rect x="456.86" y="339.52" width="17.04" height="16.96" fill="#ee523f"/>
<rect x="82.00" y="355.88" width="17.64" height="16.96" fill="#611f53"/>
<rect x="99.04" y="355.88" width="17.64" height="16.96" fill="#a8185a"/>
<rect x="116.08" y="355.88" width="17.64" height="16.96" fill="#691f55"/>
<rect x="133.12" y="355.88" width="17.64" height="16.96" fill="#f6b089"/>
<rect x="150.16" y="355.88" width="17.64" height="16.96" fill="#f6b893"/>
<rect x="167.20" y="355.88" width="17.64" height="16.96" fill="#f6a47c"/>
<rect x="184.23" y="355.88" width="17.64" height="16.96" fill="#f6bb97"/>
<rect x="201.27" y="355.88" width="17.64" height="16.96" fill="#f6a47c"/>
<rect x="218.31" y="355.88" width="17.64" height="16.96" fill="#f6a981"/>
<rect x="235.35" y="355.88" width="17.64" height="16.96" fill="#f6ad85"/>
<rect x="252.39" y="355.88" width="17.64" height="16.96" fill="#f6a178"/>
<rect x="269.43" y="355.88" width="17.64" height="16.96" fill="#f6ad85"/>
<rect x="286.47" y="355.88" width="17.64" height="16.96" fill="#f6b089"/>
<rect x="303.51" y="355.88" width="17.64" height="16.96" fill="#f6a178"/>
<rect x="320.55" y="355.88" width="17.64" height="16.96" fill="#f58a61"/>
<rect x="337.59" y="355.88" width="17.64" height="16.96" fill="#1e122d"/>
<rect x="354.63" y="355.88" width="17.64" height="16.96" fill="#f58a61"/>
<rect x="371.67" y="355.88" width="17.64" height="16.96" fill="#e8403e"/>
<rect x="388.70" y="355.88" width="17.64" height="16.96" fill="#f9e3d2"/>
<rect x="405.74" y="355.88" width="17.64" height="16.96" fill="#f69e75"/>
<rect x="422.78" y="355.88" width="17.64" height="16.96" fill="#f37852"/>
<rect x="439.82" y="355.88" width="17.64" height="16.96" fill="#faebdd"/>
<rect x="456.86" y="355.88" width="17.04" height="16.96" fill="#f4845d"/>
<rect x="82.00" y="372.24" width="17.64" height="16.36" fill="#601f52"/>
<rect x="99.04" y="372.24" width="17.64" height="16.36" fill="#901d5b"/>
<rect x="116.08" y="372.24" width="17.64" height="16.36" fill="#601f52"/>
<rect x="133.12" y="372.24" width="17.64" height="16.36" fill="#e9423e"/>
<rect x="150.16" y="372.24" width="17.64" height="16.36" fill="#ee523f"/>
<rect x="167.20" y="372.24" width="17.64" height="16.36" fill="#e8403e"/>
<rect x="184.23" y="372.24" width="17.64" height="16.36" fill="#ea443e"/>
<rect x="201.27" y="372.24" width="17.64" height="16.36" fill="#e8403e"/>
<rect x="218.31" y="372.24" width="17.64" height="16.36" fill="#f05c42"/>
<rect x="235.35" y="372.24" width="17.64" height="16.36" fill="#ef5640"/>
<rect x="252.39" y="372.24" width="17.64" height="16.36" fill="#ef5640"/>
<rect x="269.43" y="372.24" width="17.64" height="16.36" fill="#ef5640"/>
<rect x="286.47" y="372.24" width="17.64" height="16.36" fill="#ef5840"/>
<rect x="303.51" y="372.24" width="17.64" height="16.36" fill="#ef5640"/>
<rect x="320.55" y="372.24" width="17.64" height="16.36" fill="#de2e44"/>
<rect x="337.59" y="372.24" width="17.64" height="16.36" fill="#641f54"/>
<rect x="354.63" y="372.24" width="17.64" height="16.36" fill="#ec4a3e"/>
<rect x="371.67" y="372.24" width="17.64" height="16.36" fill="#e33641"/>
<rect x="388.70" y="372.24" width="17.64" height="16.36" fill="#f58b63"/>
<rect x="405.74" y="372.24" width="17.64" height="16.36" fill="#f3714d"/>
<rect x="422.78" y="372.24" width="17.64" height="16.36" fill="#ee523f"/>
<rect x="439.82" y="372.24" width="17.64" height="16.36" fill="#f4845d"/>
<rect x="456.86" y="372.24" width="17.04" height="16.36" fill="#faebdd"/>
<g font-family="DejaVu Sans" font-size="7.8" text-anchor="middle">
<text transform="translate(90.52,20.48) scale(0.885,1)" dy="0.36em" fill="#262626" stroke="#262626" stroke-width="0">1.00</text>
<text transform="translate(107.56,20.48) scale(0.885,1)" dy="0.36em" fill="#ffffff" stroke="#ffffff" stroke-width="0">0.40</text>
<text transform="translate(124.60,20.48) scale(0.885,1)" dy="0.36em" fill="#262626" stroke="#262626" stroke-width="0">0.60</text>
<text transform="translate(141.64,20.48) scale(0.885,1)" dy="0.36em" fill="#ffffff" stroke="#ffffff" stroke-width="0">-0.12</text>
<text transform="translate(158.68,20.48) scale(0.885,1)" dy="0.36em" fill="#ffffff" stroke="#ffffff" stroke-width="0">-0.38</text>
<text transform="translate(175.72,20.48) scale(0.885,1)" dy="0.36em" fill="#ffffff" stroke="#ffffff" stroke-width="0">-0.08</text>
<text transform="translate(192.75,20.48) scale(0.885,1)" dy="0.36em" fill="#ffffff" stroke="#ffffff" stroke-width="0">-0.11</text>
<text transform="translate(209.79,20.48) scale(0.885,1)" dy="0.36em" fill="#ffffff" stroke="#ffffff" stroke-width="0">-0.08</text>
<text transform="translate(226.83,20.48) scale(0.885,1)" dy="0.36em" fill="#ffffff" stroke="#ffffff" stroke-width="0">-0.10</text>
<text transform="translate(243.87,20.48) scale(0.885,1)" dy="0.36em" fill="#ffffff" stroke="#ffffff" stroke-width="0">-0.07</text>
<text transform="translate(260.91,20.48) scale(0.885,1)" dy="0.36em" fill="#ffffff" stroke="#ffffff" stroke-width="0">-0.09</text>
<text transform="translate(277.95,20.48) scale(0.885,1)" dy="0.36em" fill="#ffffff" stroke="#ffffff" stroke-width="0">-0.07</text>
<text transform="translate(294.99,20.48) scale(0.885,1)" dy="0.36em" fill="#ffffff" stroke="#ffffff" stroke-width="0">-0.08</text>
<text transform="translate(312.03,20.48) scale(0.885,1)" dy="0.36em" fill="#ffffff" stroke="#ffffff" stroke-width="0">-0.09</text>
<text transform="translate(329.07,20.48) scale(0.885,1)" dy="0.36em" fill="#ffffff" stroke="#ffffff" stroke-width="0">-0.02</text>
<text transform="translate(346.11,20.48) scale(0.885,1)" dy="0.36em" fill="#ffffff" stroke="#ffffff" stroke-width="0">0.06</text>
<text transform="translate(363.15,20.48) scale(0.885,1)" dy="0.36em" fill="#ffffff" stroke="#ffffff" stroke-width="0">-0.38</text>
<text transform="translate(380.18,20.48) scale(0.885,1)" dy="0.36em" fill="#ffffff" stroke="#ffffff" stroke-width="0">-0.45</text>
<text transform="translate(397.22,20.48) scale(0.885,1)" dy="0.36em" fill="#ffffff" stroke="#ffffff" stroke-width="0">-0.41</text>
<text transform="translate(414.26,20.48) scale(0.885,1)" dy="0.36em" fill="#ffffff" stroke="#ffffff" stroke-width="0">-0.25</text>
<text transform="translate(431.30,20.48) scale(0.885,1)" dy="0.36em" fill="#ffffff" stroke="#ffffff" stroke-width="0">0.18</text>
<text transform="translate(448.34,20.48) scale(0.885,1)" dy="0.36em" fill="#ffffff" stroke="#ffffff" stroke-width="0">-0.37</text>
<text transform="translate(465.38,20.48) scale(0.885,1)" dy="0.36em" fill="#ffffff" stroke="#ffffff" stroke-width="0">-0.38</text>
<text transform="translate(90.52,36.84) scale(0.885,1)" dy="0.36em" fill="#ffffff" stroke="#ffffff" stroke-width="0">0.40</text>
<text transform="translate(107.56,36.84) scale(0.885,1)" dy="0.36em" fill="#262626" stroke="#262626" stroke-width="0">1.00</text>
<text transform="translate(124.60,36.84) scale(0.885,1)" dy="0.36em" fill="#ffffff" stroke="#ffffff" stroke-width="0">0.08</text>
<text transform="translate(141.64,36.84) scale(0.885,1)" dy="0.36em" fill="#ffffff" stroke="#ffffff" stroke-width="0">0.10</text>
<text transform="translate(158.68,36.84) scale(0.885,1)" dy="0.36em" fill="#ffffff" stroke="#ffffff" stroke-width="0">-0.03</text>
<text transform="translate(175.72,36.84) scale(0.885,1)" dy="0.36em" fill="#ffffff" stroke="#ffffff" stroke-width="0">0.10</text>
<text transform="translate(192.75,36.84) scale(0.885,1)" dy="0.36em" fill="#ffffff" stroke="#ffffff" stroke-width="0">0.09</text>
<text transform="translate(209.79,36.84) scale(0.885,1)" dy="0.36em" fill="#ffffff" stroke="#ffffff" stroke-width="0">0.10</text>
<text transform="translate(226.83,36.84) scale(0.885,1)" dy="0.36em" fill="#ffffff" stroke="#ffffff" stroke-width="0">0.00</text>
<text transform="translate(243.87,36.84) scale(0.885,1)" dy="0.36em" fill="#ffffff" stroke="#ffffff" stroke-width="0">0.04</text>
<text transform="translate(260.91,36.84) scale(0.885,1)" dy="0.36em" fill="#ffffff" stroke="#ffffff" stroke-width="0">-0.00</text>
<text transform="translate(277.95,36.84) scale(0.885,1)" dy="0.36em" fill="#ffffff" stroke="#ffffff" stroke-width="0">-0.01</text>
<text transform="translate(294.99,36.84) scale(0.885,1)" dy="0.36em" fill="#ffffff" stroke="#ffffff" stroke-width="0">0.00</text>
<text transform="translate(312.03,36.84) scale(0.885,1)" dy="0.36em" fill="#ffffff" stroke="#ffffff" stroke-width="0">-0.00</text>
<text transform="translate(329.07,36.84) scale(0.885,1)" dy="0.36em" fill="#ffffff" stroke="#ffffff" stroke-width="0">0.16</text>
<text transform="translate(346.11,36.84) scale(0.885,1)" dy="0.36em" fill="#ffffff" stroke="#ffffff" stroke-width="0">-0.02</text>
<text transform="translate(363.15,36.84) scale(0.885,1)" dy="0.36em" fill="#ffffff" stroke="#ffffff" stroke-width="0">-0.11</text>
<text transform="translate(380.18,36.84) scale(0.885,1)" dy="0.36em" fill="#ffffff" stroke="#ffffff" stroke-width="0">-0.34</text>
<text transform="translate(397.22,36.84) scale(0.885,1)" dy="0.36em" fill="#ffffff" stroke="#ffffff" stroke-width="0">-0.08</text>
<text transform="translate(414.26,36.84) scale(0.885,1)" dy="0.36em" fill="#ffffff" stroke="#ffffff" stroke-width="0">-0.00</text>
<text transform="translate(431.30,36.84) scale(0.885,1)" dy="0.36em" fill="#ffffff" stroke="#ffffff" stroke-width="0">0.18</text>
<text transform="translate(448.34,36.84) scale(0.885,1)" dy="0.36em" fill="#ffffff" stroke="#ffffff" stroke-width="0">-0.07</text>
<text transform="translate(465.38,36.84) scale(0.885,1)" dy="0.36em" fill="#ffffff" stroke="#ffffff" stroke-width="0">-0.17</text>
<text transform="translate(90.52,53.20) scale(0.885,1)" dy="0.36em" fill="#262626" stroke="#262626" stroke-width="0">0.60</text>
<text transform="translate(107.56,53.20) scale(0.885,1)" dy="0.36em" fill="#ffffff" stroke="#ffffff" stroke-width="0">0.08</text>
<text transform="translate(124.60,53.20) scale(0.885,1)" dy="0.36em" fill="#262626" stroke="#262626" stroke-width="0">1.00</text>
<text transform="translate(141.64,53.20) scale(0.885,1)" dy="0.36em" fill="#ffffff" stroke="#ffffff" stroke-width="0">-0.14</text>
<text transform="translate(158.68,53.20) scale(0.885,1)" dy="0.36em" fill="#ffffff" stroke="#ffffff" stroke-width="0">-0.28</text>
<text transform="translate(175.72,53.20) scale(0.885,1)" dy="0.36em" fill="#ffffff" stroke="#ffffff" stroke-width="0">-0.10</text>
<text transform="translate(192.75,53.20) scale(0.885,1)" dy="0.36em" fill="#ffffff" stroke="#ffffff" stroke-width="0">-0.10</text>
<text transform="translate(209.79,53.20) scale(0.885,1)" dy="0.36em" fill="#ffffff" stroke="#ffffff" stroke-width="0">-0.10</text>
<text transform="translate(226.83,53.20) scale(0.885,1)" dy="0.36em" fill="#ffffff" stroke="#ffffff" stroke-width="0">-0.14</text>
<text transform="translate(243.87,53.20) scale(0.885,1)" dy="0.36em" fill="#ffffff" stroke="#ffffff" stroke-width="0">-0.12</text>
<text transform="translate(260.91,53.20) scale(0.885,1)" dy="0.36em" fill="#ffffff" stroke="#ffffff" stroke-width="0">-0.15</text>
<text transform="translate(277.95,53.20) scale(0.885,1)" dy="0.36em" fill="#ffffff" stroke="#ffffff" stroke-width="0">-0.10</text>
<text transform="translate(294.99,53.20) scale(0.885,1)" dy="0.36em" fill="#ffffff" stroke="#ffffff" stroke-width="0">-0.11</text>
<text transform="translate(312.03,53.20) scale(0.885,1)" dy="0.36em" fill="#ffffff" stroke="#ffffff" stroke-width="0">-0.15</text>
<text transform="translate(329.07,53.20) scale(0.885,1)" dy="0.36em" fill="#ffffff" stroke="#ffffff" stroke-width="0">-0.11</text>
<text transform="translate(346.11,53.20) scale(0.885,1)" dy="0.36em" fill="#ffffff" stroke="#ffffff" stroke-width="0">0.21</text>
<text transform="translate(363.15,53.20) scale(0.885,1)" dy="0.36em" fill="#ffffff" stroke="#ffffff" stroke-width="0">-0.40</text>
<text transform="translate(380.18,53.20) scale(0.885,1)" dy="0.36em" fill="#ffffff" stroke="#ffffff" stroke-width="0">-0.05</text>
<text transform="translate(397.22,53.20) scale(0.885,1)" dy="0.36em" fill="#ffffff" stroke="#ffffff" stroke-width="0">-0.39</text>
<text transform="translate(414.26,53.20) scale(0.885,1)" dy="0.36em" fill="#ffffff" stroke="#ffffff" stroke-width="0">-0.24</text>
<text transform="translate(431.30,53.20) scale(0.885,1)" dy="0.36em" fill="#ffffff" stroke="#ffffff" stroke-width="0">-0.10</text>
<text transform="translate(448.34,53.20) scale(0.885,1)" dy="0.36em" fill="#ffffff" stroke="#ffffff" stroke-width="0">-0.34</text>
<text transform="translate(465.38,53.20) scale(0.885,1)" dy="0.36em" fill="#ffffff" stroke="#ffffff" stroke-width="0">-0.38</text>
<text transform="translate(90.52,69.56) scale(0.885,1)" dy="0.36em" fill="#ffffff" stroke="#ffffff" stroke-width="0">-0.12</text>
<text transform="translate(107.56,69.56) scale(0.885,1)" dy="0.36em" fill="#ffffff" stroke="#ffffff" stroke-width="0">0.10</text>
<text transform="translate(124.60,69.56) scale(0.885,1)" dy="0.36em" fill="#ffffff" stroke="#ffffff" stroke-width="0">-0.14</text>
<text transform="translate(141.64,69.56) scale(0.885,1)" dy="0.36em" fill="#262626" stroke="#262626" stroke-width="0">1.00</text>
<text transform="translate(158.68,69.56) scale(0.885,1)" dy="0.36em" fill="#262626" stroke="#262626" stroke-width="0">0.94</text>
<text transform="translate(175.72,69.56) scale(0.885,1)" dy="0.36em" fill="#262626" stroke="#262626" stroke-width="0">0.99</text>
<text transform="translate(192.75,69.56) scale(0.885,1)" dy="0.36em" fill="#262626" stroke="#262626" stroke-width="0">0.97</text>
<text transform="translate(209.79,69.56) scale(0.885,1)" dy="0.36em" fill="#262626" stroke="#262626" stroke-width="0">0.99</text>
<text transform="translate(226.83,69.56) scale(0.885,1)" dy="0.36em" fill="#262626" stroke="#262626" stroke-width="0">0.77</text>
<text transform="translate(243.87,69.56) scale(0.885,1)" dy="0.36em" fill="#262626" stroke="#262626" stroke-width="0">0.80</text>
<text transform="translate(260.91,69.56) scale(0.885,1)" dy="0.36em" fill="#262626" stroke="#262626" stroke-width="0">0.75</text>
<text transform="translate(277.95,69.56) scale(0.885,1)" dy="0.36em" fill="#262626" stroke="#262626" stroke-width="0">0.73</text>
<text transform="translate(294.99,69.56) scale(0.885,1)" dy="0.36em" fill="#262626" stroke="#262626" stroke-width="0">0.76</text>
<text transform="translate(312.03,69.56) scale(0.885,1)" dy="0.36em" fill="#262626" stroke="#262626" stroke-width="0">0.75</text>
<text transform="translate(329.07,69.56) scale(0.885,1)" dy="0.36em" fill="#262626" stroke="#262626" stroke-width="0">0.91</text>
<text transform="translate(346.11,69.56) scale(0.885,1)" dy="0.36em" fill="#ffffff" stroke="#ffffff" stroke-width="0">-0.73</text>
<text transform="translate(363.15,69.56) scale(0.885,1)" dy="0.36em" fill="#ffffff" stroke="#ffffff" stroke-width="0">0.36</text>
<text transform="translate(380.18,69.56) scale(0.885,1)" dy="0.36em" fill="#ffffff" stroke="#ffffff" stroke-width="0">0.10</text>
<text transform="translate(397.22,69.56) scale(0.885,1)" dy="0.36em" fill="#262626" stroke="#262626" stroke-width="0">0.69</text>
<text transform="translate(414.26,69.56) scale(0.885,1)" dy="0.36em" fill="#ffffff" stroke="#ffffff" stroke-width="0">0.39</text>
<text transform="translate(431.30,69.56) scale(0.885,1)" dy="0.36em" fill="#ffffff" stroke="#ffffff" stroke-width="0">0.43</text>
<text transform="translate(448.34,69.56) scale(0.885,1)" dy="0.36em" fill="#262626" stroke="#262626" stroke-width="0">0.72</text>
<text transform="translate(465.38,69.56) scale(0.885,1)" dy="0.36em" fill="#ffffff" stroke="#ffffff" stroke-width="0">0.28</text>
<text transform="translate(90.52,85.92) scale(0.885,1)" dy="0.36em" fill="#ffffff" stroke="#ffffff" stroke-width="0">-0.38</text>
<text transform="translate(107.56,85.92) scale(0.885,1)" dy="0.36em" fill="#ffffff" stroke="#ffffff" stroke-width="0">-0.03</text>
<text transform="translate(124.60,85.92) scale(0.885,1)" dy="0.36em" fill="#ffffff" stroke="#ffffff" stroke-width="0">-0.28</text>
<text transform="translate(141.64,85.92) scale(0.885,1)" dy="0.36em" fill="#262626" stroke="#262626" stroke-width="0">0.94</text>
<text transform="translate(158.68,85.92) scale(0.885,1)" dy="0.36em" fill="#262626" stroke="#262626" stroke-width="0">1.00</text>
<text transform="translate(175.72,85.92) scale(0.885,1)" dy="0.36em" fill="#262626" stroke="#262626" stroke-width="0">0.92</text>
<text transform="translate(192.75,85.92) scale(0.885,1)" dy="0.36em" fill="#262626" stroke="#262626" stroke-width="0">0.90</text>
<text transform="translate(209.79,85.92) scale(0.885,1)" dy="0.36em" fill="#262626" stroke="#262626" stroke-width="0">0.92</text>
<text transform="translate(226.83,85.92) scale(0.885,1)" dy="0.36em" fill="#262626" stroke="#262626" stroke-width="0">0.70</text>
<text transform="translate(243.87,85.92) scale(0.885,1)" dy="0.36em" fill="#262626" stroke="#262626" stroke-width="0">0.72</text>
<text transform="translate(260.91,85.92) scale(0.885,1)" dy="0.36em" fill="#262626" stroke="#262626" stroke-width="0">0.70</text>
<text transform="translate(277.95,85.92) scale(0.885,1)" dy="0.36em" fill="#262626" stroke="#262626" stroke-width="0">0.65</text>
<text transform="translate(294.99,85.92) scale(0.885,1)" dy="0.36em" fill="#262626" stroke="#262626" stroke-width="0">0.65</text>
<text transform="translate(312.03,85.92) scale(0.885,1)" dy="0.36em" fill="#262626" stroke="#262626" stroke-width="0">0.70</text>
<text transform="translate(329.07,85.92) scale(0.885,1)" dy="0.36em" fill="#262626" stroke="#262626" stroke-width="0">0.83</text>
<text transform="translate(346.11,85.92) scale(0.885,1)" dy="0.36em" fill="#ffffff" stroke="#ffffff" stroke-width="0">-0.66</text>
<text transform="translate(363.15,85.92) scale(0.885,1)" dy="0.36em" fill="#ffffff" stroke="#ffffff" stroke-width="0">0.44</text>
<text transform="translate(380.18,85.92) scale(0.885,1)" dy="0.36em" fill="#ffffff" stroke="#ffffff" stroke-width="0">0.18</text>
<text transform="translate(397.22,85.92) scale(0.885,1)" dy="0.36em" fill="#262626" stroke="#262626" stroke-width="0">0.74</text>
<text transform="translate(414.26,85.92) scale(0.885,1)" dy="0.36em" fill="#ffffff" stroke="#ffffff" stroke-width="0">0.39</text>
<text transform="translate(431.30,85.92) scale(0.885,1)" dy="0.36em" fill="#ffffff" stroke="#ffffff" stroke-width="0">0.31</text>
<text transform="translate(448.34,85.92) scale(0.885,1)" dy="0.36em" fill="#262626" stroke="#262626" stroke-width="0">0.75</text>
<text transform="translate(465.38,85.92) scale(0.885,1)" dy="0.36em" fill="#ffffff" stroke="#ffffff" stroke-width="0">0.34</text>
<text transform="translate(90.52,102.28) scale(0.885,1)" dy="0.36em" fill="#ffffff" stroke="#ffffff" stroke-width="0">-0.08</text>
<text transform="translate(107.56,102.28) scale(0.885,1)" dy="0.36em" fill="#ffffff" stroke="#ffffff" stroke-width="0">0.10</text>
<text transform="translate(124.60,102.28) scale(0.885,1)" dy="0.36em" fill="#ffffff" stroke="#ffffff" stroke-width="0">-0.10</text>
<text transform="translate(141.64,102.28) scale(0.885,1)" dy="0.36em" fill="#262626" stroke="#262626" stroke-width="0">0.99</text>
<text transform="translate(158.68,102.28) scale(0.885,1)" dy="0.36em" fill="#262626" stroke="#262626" stroke-width="0">0.92</text>
<text transform="translate(175.72,102.28) scale(0.885,1)" dy="0.36em" fill="#262626" stroke="#262626" stroke-width="0">1.00</text>
<text transform="translate(192.75,102.28) scale(0.885,1)" dy="0.36em" fill="#262626" stroke="#262626" stroke-width="0">0.96</text>
<text transform="translate(209.79,102.28) scale(0.885,1)" dy="0.36em" fill="#262626" stroke="#262626" stroke-width="0">1.00</text>
<text transform="translate(226.83,102.28) scale(0.885,1)" dy="0.36em" fill="#262626" stroke="#262626" stroke-width="0">0.76</text>
<text transform="translate(243.87,102.28) scale(0.885,1)" dy="0.36em" fill="#262626" stroke="#262626" stroke-width="0">0.79</text>
<text transform="translate(260.91,102.28) scale(0.885,1)" dy="0.36em" fill="#262626" stroke="#262626" stroke-width="0">0.74</text>
<text transform="translate(277.95,102.28) scale(0.885,1)" dy="0.36em" fill="#262626" stroke="#262626" stroke-width="0">0.71</text>
<text transform="translate(294.99,102.28) scale(0.885,1)" dy="0.36em" fill="#262626" stroke="#262626" stroke-width="0">0.74</text>
<text transform="translate(312.03,102.28) scale(0.885,1)" dy="0.36em" fill="#262626" stroke="#262626" stroke-width="0">0.74</text>
<text transform="translate(329.07,102.28) scale(0.885,1)" dy="0.36em" fill="#262626" stroke="#262626" stroke-width="0">0.92</text>
<text transform="translate(346.11,102.28) scale(0.885,1)" dy="0.36em" fill="#ffffff" stroke="#ffffff" stroke-width="0">-0.72</text>
<text transform="translate(363.15,102.28) scale(0.885,1)" dy="0.36em" fill="#ffffff" stroke="#ffffff" stroke-width="0">0.34</text>
<text transform="translate(380.18,102.28) scale(0.885,1)" dy="0.36em" fill="#ffffff" stroke="#ffffff" stroke-width="0">0.06</text>
<text transform="translate(397.22,102.28) scale(0.885,1)" dy="0.36em" fill="#262626" stroke="#262626" stroke-width="0">0.65</text>
<text transform="translate(414.26,102.28) scale(0.885,1)" dy="0.36em" fill="#ffffff" stroke="#ffffff" stroke-width="0">0.32</text>
<text transform="translate(431.30,102.28) scale(0.885,1)" dy="0.36em" fill="#ffffff" stroke="#ffffff" stroke-width="0">0.43</text>
<text transform="translate(448.34,102.28) scale(0.885,1)" dy="0.36em" fill="#262626" stroke="#262626" stroke-width="0">0.67</text>
<text transform="translate(465.38,102.28) scale(0.885,1)" dy="0.36em" fill="#ffffff" stroke="#ffffff" stroke-width="0">0.27</text>
<text transform="translate(90.52,118.65) scale(0.885,1)" dy="0.36em" fill="#ffffff" stroke="#ffffff" stroke-width="0">-0.11</text>
<text transform="translate(107.56,118.65) scale(0.885,1)" dy="0.36em" fill="#ffffff" stroke="#ffffff" stroke-width="0">0.09</text>
<text transform="translate(124.60,118.65) scale(0.885,1)" dy="0.36em" fill="#ffffff" stroke="#ffffff" stroke-width="0">-0.10</text>
<text transform="translate(141.64,118.65) scale(0.885,1)" dy="0.36em" fill="#262626" stroke="#262626" stroke-width="0">0.97</text>
<text transform="translate(158.68,118.65) scale(0.885,1)" dy="0.36em" fill="#262626" stroke="#262626" stroke-width="0">0.90</text>
<text transform="translate(175.72,118.65) scale(0.885,1)" dy="0.36em" fill="#262626" stroke="#262626" stroke-width="0">0.96</text>
<text transform="translate(192.75,118.65) scale(0.885,1)" dy="0.36em" fill="#262626" stroke="#262626" stroke-width="0">1.00</text>
<text transform="translate(209.79,118.65) scale(0.885,1)" dy="0.36em" fill="#262626" stroke="#262626" stroke-width="0">0.96</text>
<text transform="translate(226.83,118.65) scale(0.885,1)" dy="0.36em" fill="#262626" stroke="#262626" stroke-width="0">0.80</text>
<text transform="translate(243.87,118.65) scale(0.885,1)" dy="0.36em" fill="#262626" stroke="#262626" stroke-width="0">0.84</text>
<text transform="translate(260.91,118.65) scale(0.885,1)" dy="0.36em" fill="#262626" stroke="#262626" stroke-width="0">0.76</text>
<text transform="translate(277.95,118.65) scale(0.885,1)" dy="0.36em" fill="#262626" stroke="#262626" stroke-width="0">0.79</text>
<text transform="translate(294.99,118.65) scale(0.885,1)" dy="0.36em" fill="#262626" stroke="#262626" stroke-width="0">0.80</text>
<text transform="translate(312.03,118.65) scale(0.885,1)" dy="0.36em" fill="#262626" stroke="#262626" stroke-width="0">0.76</text>
<text transform="translate(329.07,118.65) scale(0.885,1)" dy="0.36em" fill="#262626" stroke="#262626" stroke-width="0">0.84</text>
<text transform="translate(346.11,118.65) scale(0.885,1)" dy="0.36em" fill="#ffffff" stroke="#ffffff" stroke-width="0">-0.73</text>
<text transform="translate(363.15,118.65) scale(0.885,1)" dy="0.36em" fill="#ffffff" stroke="#ffffff" stroke-width="0">0.33</text>
<text transform="translate(380.18,118.65) scale(0.885,1)" dy="0.36em" fill="#ffffff" stroke="#ffffff" stroke-width="0">0.20</text>
<text transform="translate(397.22,118.65) scale(0.885,1)" dy="0.36em" fill="#262626" stroke="#262626" stroke-width="0">0.72</text>
<text transform="translate(414.26,118.65) scale(0.885,1)" dy="0.36em" fill="#ffffff" stroke="#ffffff" stroke-width="0">0.41</text>
<text transform="translate(431.30,118.65) scale(0.885,1)" dy="0.36em" fill="#ffffff" stroke="#ffffff" stroke-width="0">0.41</text>
<text transform="translate(448.34,118.65) scale(0.885,1)" dy="0.36em" fill="#262626" stroke="#262626" stroke-width="0">0.77</text>
<text transform="translate(465.38,118.65) scale(0.885,1)" dy="0.36em" fill="#ffffff" stroke="#ffffff" stroke-width="0">0.29</text>
<text transform="translate(90.52,135.01) scale(0.885,1)" dy="0.36em" fill="#ffffff" stroke="#ffffff" stroke-width="0">-0.08</text>
<text transform="translate(107.56,135.01) scale(0.885,1)" dy="0.36em" fill="#ffffff" stroke="#ffffff" stroke-width="0">0.10</text>
<text transform="translate(124.60,135.01) scale(0.885,1)" dy="0.36em" fill="#ffffff" stroke="#ffffff" stroke-width="0">-0.10</text>
<text transform="translate(141.64,135.01) scale(0.885,1)" dy="0.36em" fill="#262626" stroke="#262626" stroke-width="0">0.99</text>
<text transform="translate(158.68,135.01) scale(0.885,1)" dy="0.36em" fill="#262626" stroke="#262626" stroke-width="0">0.92</text>
<text transform="translate(175.72,135.01) scale(0.885,1)" dy="0.36em" fill="#262626" stroke="#262626" stroke-width="0">1.00</text>
<text transform="translate(192.75,135.01) scale(0.885,1)" dy="0.36em" fill="#262626" stroke="#262626" stroke-width="0">0.96</text>
<text transform="translate(209.79,135.01) scale(0.885,1)" dy="0.36em" fill="#262626" stroke="#262626" stroke-width="0">1.00</text>
<text transform="translate(226.83,135.01) scale(0.885,1)" dy="0.36em" fill="#262626" stroke="#262626" stroke-width="0">0.76</text>
<text transform="translate(243.87,135.01) scale(0.885,1)" dy="0.36em" fill="#262626" stroke="#262626" stroke-width="0">0.79</text>
<text transform="translate(260.91,135.01) scale(0.885,1)" dy="0.36em" fill="#262626" stroke="#262626" stroke-width="0">0.74</text>
<text transform="translate(277.95,135.01) scale(0.885,1)" dy="0.36em" fill="#262626" stroke="#262626" stroke-width="0">0.71</text>
<text transform="translate(294.99,135.01) scale(0.885,1)" dy="0.36em" fill="#262626" stroke="#262626" stroke-width="0">0.74</text>
<text transform="translate(312.03,135.01) scale(0.885,1)" dy="0.36em" fill="#262626" stroke="#262626" stroke-width="0">0.74</text>
<text transform="translate(329.07,135.01) scale(0.885,1)" dy="0.36em" fill="#262626" stroke="#262626" stroke-width="0">0.92</text>
<text transform="translate(346.11,135.01) scale(0.885,1)" dy="0.36em" fill="#ffffff" stroke="#ffffff" stroke-width="0">-0.72</text>
<text transform="translate(363.15,135.01) scale(0.885,1)" dy="0.36em" fill="#ffffff" stroke="#ffffff" stroke-width="0">0.34</text>
<text transform="translate(380.18,135.01) scale(0.885,1)" dy="0.36em" fill="#ffffff" stroke="#ffffff" stroke-width="0">0.06</text>
<text transform="translate(397.22,135.01) scale(0.885,1)" dy="0.36em" fill="#262626" stroke="#262626" stroke-width="0">0.65</text>
<text transform="translate(414.26,135.01) scale(0.885,1)" dy="0.36em" fill="#ffffff" stroke="#ffffff" stroke-width="0">0.32</text>
<text transform="translate(431.30,135.01) scale(0.885,1)" dy="0.36em" fill="#ffffff" stroke="#ffffff" stroke-width="0">0.43</text>
<text transform="translate(448.34,135.01) scale(0.885,1)" dy="0.36em" fill="#262626" stroke="#262626" stroke-width="0">0.67</text>
<text transform="translate(465.38,135.01) scale(0.885,1)" dy="0.36em" fill="#ffffff" stroke="#ffffff" stroke-width="0">0.27</text>
<text transform="translate(90.52,151.37) scale(0.885,1)" dy="0.36em" fill="#ffffff" stroke="#ffffff" stroke-width="0">-0.10</text>
<text transform="translate(107.56,151.37) scale(0.885,1)" dy="0.36em" fill="#ffffff" stroke="#ffffff" stroke-width="0">0.00</text>
<text transform="translate(124.60,151.37) scale(0.885,1)" dy="0.36em" fill="#ffffff" stroke="#ffffff" stroke-width="0">-0.14</text>
<text transform="translate(141.64,151.37) scale(0.885,1)" dy="0.36em" fill="#262626" stroke="#262626" stroke-width="0">0.77</text>
<text transform="translate(158.68,151.37) scale(0.885,1)" dy="0.36em" fill="#262626" stroke="#262626" stroke-width="0">0.70</text>
<text transform="translate(175.72,151.37) scale(0.885,1)" dy="0.36em" fill="#262626" stroke="#262626" stroke-width="0">0.76</text>
<text transform="translate(192.75,151.37) scale(0.885,1)" dy="0.36em" fill="#262626" stroke="#262626" stroke-width="0">0.80</text>
<text transform="translate(209.79,151.37) scale(0.885,1)" dy="0.36em" fill="#262626" stroke="#262626" stroke-width="0">0.76</text>
<text transform="translate(226.83,151.37) scale(0.885,1)" dy="0.36em" fill="#262626" stroke="#262626" stroke-width="0">1.00</text>
<text transform="translate(243.87,151.37) scale(0.885,1)" dy="0.36em" fill="#262626" stroke="#262626" stroke-width="0">0.99</text>
<text transform="translate(260.91,151.37) scale(0.885,1)" dy="0.36em" fill="#262626" stroke="#262626" stroke-width="0">0.99</text>
<text transform="translate(277.95,151.37) scale(0.885,1)" dy="0.36em" fill="#262626" stroke="#262626" stroke-width="0">0.98</text>
<text transform="translate(294.99,151.37) scale(0.885,1)" dy="0.36em" fill="#262626" stroke="#262626" stroke-width="0">0.95</text>
<text transform="translate(312.03,151.37) scale(0.885,1)" dy="0.36em" fill="#262626" stroke="#262626" stroke-width="0">0.99</text>
<text transform="translate(329.07,151.37) scale(0.885,1)" dy="0.36em" fill="#262626" stroke="#262626" stroke-width="0">0.72</text>
<text transform="translate(346.11,151.37) scale(0.885,1)" dy="0.36em" fill="#ffffff" stroke="#ffffff" stroke-width="0">-0.84</text>
<text transform="translate(363.15,151.37) scale(0.885,1)" dy="0.36em" fill="#ffffff" stroke="#ffffff" stroke-width="0">0.45</text>
<text transform="translate(380.18,151.37) scale(0.885,1)" dy="0.36em" fill="#ffffff" stroke="#ffffff" stroke-width="0">0.16</text>
<text transform="translate(397.22,151.37) scale(0.885,1)" dy="0.36em" fill="#262626" stroke="#262626" stroke-width="0">0.65</text>
<text transform="translate(414.26,151.37) scale(0.885,1)" dy="0.36em" fill="#ffffff" stroke="#ffffff" stroke-width="0">0.45</text>
<text transform="translate(431.30,151.37) scale(0.885,1)" dy="0.36em" fill="#ffffff" stroke="#ffffff" stroke-width="0">0.51</text>
<text transform="translate(448.34,151.37) scale(0.885,1)" dy="0.36em" fill="#262626" stroke="#262626" stroke-width="0">0.69</text>
<text transform="translate(465.38,151.37) scale(0.885,1)" dy="0.36em" fill="#ffffff" stroke="#ffffff" stroke-width="0">0.37</text>
<text transform="translate(90.52,167.73) scale(0.885,1)" dy="0.36em" fill="#ffffff" stroke="#ffffff" stroke-width="0">-0.07</text>
<text transform="translate(107.56,167.73) scale(0.885,1)" dy="0.36em" fill="#ffffff" stroke="#ffffff" stroke-width="0">0.04</text>
<text transform="translate(124.60,167.73) scale(0.885,1)" dy="0.36em" fill="#ffffff" stroke="#ffffff" stroke-width="0">-0.12</text>
<text transform="translate(141.64,167.73) scale(0.885,1)" dy="0.36em" fill="#262626" stroke="#262626" stroke-width="0">0.80</text>
<text transform="translate(158.68,167.73) scale(0.885,1)" dy="0.36em" fill="#262626" stroke="#262626" stroke-width="0">0.72</text>
<text transform="translate(175.72,167.73) scale(0.885,1)" dy="0.36em" fill="#262626" stroke="#262626" stroke-width="0">0.79</text>
<text transform="translate(192.75,167.73) scale(0.885,1)" dy="0.36em" fill="#262626" stroke="#262626" stroke-width="0">0.84</text>
<text transform="translate(209.79,167.73) scale(0.885,1)" dy="0.36em" fill="#262626" stroke="#262626" stroke-width="0">0.79</text>
<text transform="translate(226.83,167.73) scale(0.885,1)" dy="0.36em" fill="#262626" stroke="#262626" stroke-width="0">0.99</text>
<text transform="translate(243.87,167.73) scale(0.885,1)" dy="0.36em" fill="#262626" stroke="#262626" stroke-width="0">1.00</text>
<text transform="translate(260.91,167.73) scale(0.885,1)" dy="0.36em" fill="#262626" stroke="#262626" stroke-width="0">0.96</text>
<text transform="translate(277.95,167.73) scale(0.885,1)" dy="0.36em" fill="#262626" stroke="#262626" stroke-width="0">0.97</text>
<text transform="translate(294.99,167.73) scale(0.885,1)" dy="0.36em" fill="#262626" stroke="#262626" stroke-width="0">0.96</text>
<text transform="translate(312.03,167.73) scale(0.885,1)" dy="0.36em" fill="#262626" stroke="#262626" stroke-width="0">0.96</text>
<text transform="translate(329.07,167.73) scale(0.885,1)" dy="0.36em" fill="#262626" stroke="#262626" stroke-width="0">0.74</text>
<text transform="translate(346.11,167.73) scale(0.885,1)" dy="0.36em" fill="#ffffff" stroke="#ffffff" stroke-width="0">-0.83</text>
<text transform="translate(363.15,167.73) scale(0.885,1)" dy="0.36em" fill="#ffffff" stroke="#ffffff" stroke-width="0">0.41</text>
<text transform="translate(380.18,167.73) scale(0.885,1)" dy="0.36em" fill="#ffffff" stroke="#ffffff" stroke-width="0">0.17</text>
<text transform="translate(397.22,167.73) scale(0.885,1)" dy="0.36em" fill="#262626" stroke="#262626" stroke-width="0">0.65</text>
<text transform="translate(414.26,167.73) scale(0.885,1)" dy="0.36em" fill="#ffffff" stroke="#ffffff" stroke-width="0">0.45</text>
<text transform="translate(431.30,167.73) scale(0.885,1)" dy="0.36em" fill="#ffffff" stroke="#ffffff" stroke-width="0">0.51</text>
<text transform="translate(448.34,167.73) scale(0.885,1)" dy="0.36em" fill="#262626" stroke="#262626" stroke-width="0">0.70</text>
<text transform="translate(465.38,167.73) scale(0.885,1)" dy="0.36em" fill="#ffffff" stroke="#ffffff" stroke-width="0">0.35</text>
<text transform="translate(90.52,184.09) scale(0.885,1)" dy="0.36em" fill="#ffffff" stroke="#ffffff" stroke-width="0">-0.09</text>
<text transform="translate(107.56,184.09) scale(0.885,1)" dy="0.36em" fill="#ffffff" stroke="#ffffff" stroke-width="0">-0.00</text>
<text transform="translate(124.60,184.09) scale(0.885,1)" dy="0.36em" fill="#ffffff" stroke="#ffffff" stroke-width="0">-0.15</text>
<text transform="translate(141.64,184.09) scale(0.885,1)" dy="0.36em" fill="#262626" stroke="#262626" stroke-width="0">0.75</text>
<text transform="translate(158.68,184.09) scale(0.885,1)" dy="0.36em" fill="#262626" stroke="#262626" stroke-width="0">0.70</text>
<text transform="translate(175.72,184.09) scale(0.885,1)" dy="0.36em" fill="#262626" stroke="#262626" stroke-width="0">0.74</text>
<text transform="translate(192.75,184.09) scale(0.885,1)" dy="0.36em" fill="#262626" stroke="#262626" stroke-width="0">0.76</text>
<text transform="translate(209.79,184.09) scale(0.885,1)" dy="0.36em" fill="#262626" stroke="#262626" stroke-width="0">0.74</text>
<text transform="translate(226.83,184.09) scale(0.885,1)" dy="0.36em" fill="#262626" stroke="#262626" stroke-width="0">0.99</text>
<text transform="translate(243.87,184.09) scale(0.885,1)" dy="0.36em" fill="#262626" stroke="#262626" stroke-width="0">0.96</text>
<text transform="translate(260.91,184.09) scale(0.885,1)" dy="0.36em" fill="#262626" stroke="#262626" stroke-width="0">1.00</text>
<text transform="translate(277.95,184.09) scale(0.885,1)" dy="0.36em" fill="#262626" stroke="#262626" stroke-width="0">0.96</text>
<text transform="translate(294.99,184.09) scale(0.885,1)" dy="0.36em" fill="#262626" stroke="#262626" stroke-width="0">0.90</text>
<text transform="translate(312.03,184.09) scale(0.885,1)" dy="0.36em" fill="#262626" stroke="#262626" stroke-width="0">1.00</text>
<text transform="translate(329.07,184.09) scale(0.885,1)" dy="0.36em" fill="#262626" stroke="#262626" stroke-width="0">0.72</text>
<text transform="translate(346.11,184.09) scale(0.885,1)" dy="0.36em" fill="#ffffff" stroke="#ffffff" stroke-width="0">-0.83</text>
<text transform="translate(363.15,184.09) scale(0.885,1)" dy="0.36em" fill="#ffffff" stroke="#ffffff" stroke-width="0">0.44</text>
<text transform="translate(380.18,184.09) scale(0.885,1)" dy="0.36em" fill="#ffffff" stroke="#ffffff" stroke-width="0">0.15</text>
<text transform="translate(397.22,184.09) scale(0.885,1)" dy="0.36em" fill="#262626" stroke="#262626" stroke-width="0">0.61</text>
<text transform="translate(414.26,184.09) scale(0.885,1)" dy="0.36em" fill="#ffffff" stroke="#ffffff" stroke-width="0">0.40</text>
<text transform="translate(431.30,184.09) scale(0.885,1)" dy="0.36em" fill="#ffffff" stroke="#ffffff" stroke-width="0">0.47</text>
<text transform="translate(448.34,184.09) scale(0.885,1)" dy="0.36em" fill="#262626" stroke="#262626" stroke-width="0">0.65</text>
<text transform="translate(465.38,184.09) scale(0.885,1)" dy="0.36em" fill="#ffffff" stroke="#ffffff" stroke-width="0">0.35</text>
<text transform="translate(90.52,200.45) scale(0.885,1)" dy="0.36em" fill="#ffffff" stroke="#ffffff" stroke-width="0">-0.07</text>
<text transform="translate(107.56,200.45) scale(0.885,1)" dy="0.36em" fill="#ffffff" stroke="#ffffff" stroke-width="0">-0.01</text>
<text transform="translate(124.60,200.45) scale(0.885,1)" dy="0.36em" fill="#ffffff" stroke="#ffffff" stroke-width="0">-0.10</text>
<text transform="translate(141.64,200.45) scale(0.885,1)" dy="0.36em" fill="#262626" stroke="#262626" stroke-width="0">0.73</text>
<text transform="translate(158.68,200.45) scale(0.885,1)" dy="0.36em" fill="#262626" stroke="#262626" stroke-width="0">0.65</text>
<text transform="translate(175.72,200.45) scale(0.885,1)" dy="0.36em" fill="#262626" stroke="#262626" stroke-width="0">0.71</text>
<text transform="translate(192.75,200.45) scale(0.885,1)" dy="0.36em" fill="#262626" stroke="#262626" stroke-width="0">0.79</text>
<text transform="translate(209.79,200.45) scale(0.885,1)" dy="0.36em" fill="#262626" stroke="#262626" stroke-width="0">0.71</text>
<text transform="translate(226.83,200.45) scale(0.885,1)" dy="0.36em" fill="#262626" stroke="#262626" stroke-width="0">0.98</text>
<text transform="translate(243.87,200.45) scale(0.885,1)" dy="0.36em" fill="#262626" stroke="#262626" stroke-width="0">0.97</text>
<text transform="translate(260.91,200.45) scale(0.885,1)" dy="0.36em" fill="#262626" stroke="#262626" stroke-width="0">0.96</text>
<text transform="translate(277.95,200.45) scale(0.885,1)" dy="0.36em" fill="#262626" stroke="#262626" stroke-width="0">1.00</text>
<text transform="translate(294.99,200.45) scale(0.885,1)" dy="0.36em" fill="#262626" stroke="#262626" stroke-width="0">0.95</text>
<text transform="translate(312.03,200.45) scale(0.885,1)" dy="0.36em" fill="#262626" stroke="#262626" stroke-width="0">0.96</text>
<text transform="translate(329.07,200.45) scale(0.885,1)" dy="0.36em" fill="#262626" stroke="#262626" stroke-width="0">0.66</text>
<text transform="translate(346.11,200.45) scale(0.885,1)" dy="0.36em" fill="#ffffff" stroke="#ffffff" stroke-width="0">-0.81</text>
<text transform="translate(363.15,200.45) scale(0.885,1)" dy="0.36em" fill="#ffffff" stroke="#ffffff" stroke-width="0">0.40</text>
<text transform="translate(380.18,200.45) scale(0.885,1)" dy="0.36em" fill="#ffffff" stroke="#ffffff" stroke-width="0">0.21</text>
<text transform="translate(397.22,200.45) scale(0.885,1)" dy="0.36em" fill="#262626" stroke="#262626" stroke-width="0">0.65</text>
<text transform="translate(414.26,200.45) scale(0.885,1)" dy="0.36em" fill="#ffffff" stroke="#ffffff" stroke-width="0">0.46</text>
<text transform="translate(431.30,200.45) scale(0.885,1)" dy="0.36em" fill="#ffffff" stroke="#ffffff" stroke-width="0">0.50</text>
<text transform="translate(448.34,200.45) scale(0.885,1)" dy="0.36em" fill="#262626" stroke="#262626" stroke-width="0">0.70</text>
<text transform="translate(465.38,200.45) scale(0.885,1)" dy="0.36em" fill="#ffffff" stroke="#ffffff" stroke-width="0">0.35</text>
<text transform="translate(90.52,216.81) scale(0.885,1)" dy="0.36em" fill="#ffffff" stroke="#ffffff" stroke-width="0">-0.08</text>
<text transform="translate(107.56,216.81) scale(0.885,1)" dy="0.36em" fill="#ffffff" stroke="#ffffff" stroke-width="0">0.00</text>
<text transform="translate(124.60,216.81) scale(0.885,1)" dy="0.36em" fill="#ffffff" stroke="#ffffff" stroke-width="0">-0.11</text>
<text transform="translate(141.64,216.81) scale(0.885,1)" dy="0.36em" fill="#262626" stroke="#262626" stroke-width="0">0.76</text>
<text transform="translate(158.68,216.81) scale(0.885,1)" dy="0.36em" fill="#262626" stroke="#262626" stroke-width="0">0.65</text>
<text transform="translate(175.72,216.81) scale(0.885,1)" dy="0.36em" fill="#262626" stroke="#262626" stroke-width="0">0.74</text>
<text transform="translate(192.75,216.81) scale(0.885,1)" dy="0.36em" fill="#262626" stroke="#262626" stroke-width="0">0.80</text>
<text transform="translate(209.79,216.81) scale(0.885,1)" dy="0.36em" fill="#262626" stroke="#262626" stroke-width="0">0.74</text>
<text transform="translate(226.83,216.81) scale(0.885,1)" dy="0.36em" fill="#262626" stroke="#262626" stroke-width="0">0.95</text>
<text transform="translate(243.87,216.81) scale(0.885,1)" dy="0.36em" fill="#262626" stroke="#262626" stroke-width="0">0.96</text>
<text transform="translate(260.91,216.81) scale(0.885,1)" dy="0.36em" fill="#262626" stroke="#262626" stroke-width="0">0.90</text>
<text transform="translate(277.95,216.81) scale(0.885,1)" dy="0.36em" fill="#262626" stroke="#262626" stroke-width="0">0.95</text>
<text transform="translate(294.99,216.81) scale(0.885,1)" dy="0.36em" fill="#262626" stroke="#262626" stroke-width="0">1.00</text>
<text transform="translate(312.03,216.81) scale(0.885,1)" dy="0.36em" fill="#262626" stroke="#262626" stroke-width="0">0.90</text>
<text transform="translate(329.07,216.81) scale(0.885,1)" dy="0.36em" fill="#262626" stroke="#262626" stroke-width="0">0.69</text>
<text transform="translate(346.11,216.81) scale(0.885,1)" dy="0.36em" fill="#ffffff" stroke="#ffffff" stroke-width="0">-0.80</text>
<text transform="translate(363.15,216.81) scale(0.885,1)" dy="0.36em" fill="#ffffff" stroke="#ffffff" stroke-width="0">0.45</text>
<text transform="translate(380.18,216.81) scale(0.885,1)" dy="0.36em" fill="#ffffff" stroke="#ffffff" stroke-width="0">0.16</text>
<text transform="translate(397.22,216.81) scale(0.885,1)" dy="0.36em" fill="#262626" stroke="#262626" stroke-width="0">0.67</text>
<text transform="translate(414.26,216.81) scale(0.885,1)" dy="0.36em" fill="#ffffff" stroke="#ffffff" stroke-width="0">0.50</text>
<text transform="translate(431.30,216.81) scale(0.885,1)" dy="0.36em" fill="#ffffff" stroke="#ffffff" stroke-width="0">0.54</text>
<text transform="translate(448.34,216.81) scale(0.885,1)" dy="0.36em" fill="#262626" stroke="#262626" stroke-width="0">0.72</text>
<text transform="translate(465.38,216.81) scale(0.885,1)" dy="0.36em" fill="#ffffff" stroke="#ffffff" stroke-width="0">0.36</text>
<text transform="translate(90.52,233.17) scale(0.885,1)" dy="0.36em" fill="#ffffff" stroke="#ffffff" stroke-width="0">-0.09</text>
<text transform="translate(107.56,233.17) scale(0.885,1)" dy="0.36em" fill="#ffffff" stroke="#ffffff" stroke-width="0">-0.00</text>
<text transform="translate(124.60,233.17) scale(0.885,1)" dy="0.36em" fill="#ffffff" stroke="#ffffff" stroke-width="0">-0.15</text>
<text transform="translate(141.64,233.17) scale(0.885,1)" dy="0.36em" fill="#262626" stroke="#262626" stroke-width="0">0.75</text>
<text transform="translate(158.68,233.17) scale(0.885,1)" dy="0.36em" fill="#262626" stroke="#262626" stroke-width="0">0.70</text>
<text transform="translate(175.72,233.17) scale(0.885,1)" dy="0.36em" fill="#262626" stroke="#262626" stroke-width="0">0.74</text>
<text transform="translate(192.75,233.17) scale(0.885,1)" dy="0.36em" fill="#262626" stroke="#262626" stroke-width="0">0.76</text>
<text transform="translate(209.79,233.17) scale(0.885,1)" dy="0.36em" fill="#262626" stroke="#262626" stroke-width="0">0.74</text>
<text transform="translate(226.83,233.17) scale(0.885,1)" dy="0.36em" fill="#262626" stroke="#262626" stroke-width="0">0.99</text>
<text transform="translate(243.87,233.17) scale(0.885,1)" dy="0.36em" fill="#262626" stroke="#262626" stroke-width="0">0.96</text>
<text transform="translate(260.91,233.17) scale(0.885,1)" dy="0.36em" fill="#262626" stroke="#262626" stroke-width="0">1.00</text>
<text transform="translate(277.95,233.17) scale(0.885,1)" dy="0.36em" fill="#262626" stroke="#262626" stroke-width="0">0.96</text>
<text transform="translate(294.99,233.17) scale(0.885,1)" dy="0.36em" fill="#262626" stroke="#262626" stroke-width="0">0.90</text>
<text transform="translate(312.03,233.17) scale(0.885,1)" dy="0.36em" fill="#262626" stroke="#262626" stroke-width="0">1.00</text>
<text transform="translate(329.07,233.17) scale(0.885,1)" dy="0.36em" fill="#262626" stroke="#262626" stroke-width="0">0.72</text>
<text transform="translate(346.11,233.17) scale(0.885,1)" dy="0.36em" fill="#ffffff" stroke="#ffffff" stroke-width="0">-0.83</text>
<text transform="translate(363.15,233.17) scale(0.885,1)" dy="0.36em" fill="#ffffff" stroke="#ffffff" stroke-width="0">0.44</text>
<text transform="translate(380.18,233.17) scale(0.885,1)" dy="0.36em" fill="#ffffff" stroke="#ffffff" stroke-width="0">0.15</text>
<text transform="translate(397.22,233.17) scale(0.885,1)" dy="0.36em" fill="#262626" stroke="#262626" stroke-width="0">0.61</text>
<text transform="translate(414.26,233.17) scale(0.885,1)" dy="0.36em" fill="#ffffff" stroke="#ffffff" stroke-width="0">0.40</text>
<text transform="translate(431.30,233.17) scale(0.885,1)" dy="0.36em" fill="#ffffff" stroke="#ffffff" stroke-width="0">0.47</text>
<text transform="translate(448.34,233.17) scale(0.885,1)" dy="0.36em" fill="#262626" stroke="#262626" stroke-width="0">0.65</text>
<text transform="translate(465.38,233.17) scale(0.885,1)" dy="0.36em" fill="#ffffff" stroke="#ffffff" stroke-width="0">0.35</text>
<text transform="translate(90.52,249.53) scale(0.885,1)" dy="0.36em" fill="#ffffff" stroke="#ffffff" stroke-width="0">-0.02</text>
<text transform="translate(107.56,249.53) scale(0.885,1)" dy="0.36em" fill="#ffffff" stroke="#ffffff" stroke-width="0">0.16</text>
<text transform="translate(124.60,249.53) scale(0.885,1)" dy="0.36em" fill="#ffffff" stroke="#ffffff" stroke-width="0">-0.11</text>
<text transform="translate(141.64,249.53) scale(0.885,1)" dy="0.36em" fill="#262626" stroke="#262626" stroke-width="0">0.91</text>
<text transform="translate(158.68,249.53) scale(0.885,1)" dy="0.36em" fill="#262626" stroke="#262626" stroke-width="0">0.83</text>
<text transform="translate(175.72,249.53) scale(0.885,1)" dy="0.36em" fill="#262626" stroke="#262626" stroke-width="0">0.92</text>
<text transform="translate(192.75,249.53) scale(0.885,1)" dy="0.36em" fill="#262626" stroke="#262626" stroke-width="0">0.84</text>
<text transform="translate(209.79,249.53) scale(0.885,1)" dy="0.36em" fill="#262626" stroke="#262626" stroke-width="0">0.92</text>
<text transform="translate(226.83,249.53) scale(0.885,1)" dy="0.36em" fill="#262626" stroke="#262626" stroke-width="0">0.72</text>
<text transform="translate(243.87,249.53) scale(0.885,1)" dy="0.36em" fill="#262626" stroke="#262626" stroke-width="0">0.74</text>
<text transform="translate(260.91,249.53) scale(0.885,1)" dy="0.36em" fill="#262626" stroke="#262626" stroke-width="0">0.72</text>
<text transform="translate(277.95,249.53) scale(0.885,1)" dy="0.36em" fill="#262626" stroke="#262626" stroke-width="0">0.66</text>
<text transform="translate(294.99,249.53) scale(0.885,1)" dy="0.36em" fill="#262626" stroke="#262626" stroke-width="0">0.69</text>
<text transform="translate(312.03,249.53) scale(0.885,1)" dy="0.36em" fill="#262626" stroke="#262626" stroke-width="0">0.72</text>
<text transform="translate(329.07,249.53) scale(0.885,1)" dy="0.36em" fill="#262626" stroke="#262626" stroke-width="0">1.00</text>
<text transform="translate(346.11,249.53) scale(0.885,1)" dy="0.36em" fill="#ffffff" stroke="#ffffff" stroke-width="0">-0.71</text>
<text transform="translate(363.15,249.53) scale(0.885,1)" dy="0.36em" fill="#ffffff" stroke="#ffffff" stroke-width="0">0.37</text>
<text transform="translate(380.18,249.53) scale(0.885,1)" dy="0.36em" fill="#ffffff" stroke="#ffffff" stroke-width="0">-0.13</text>
<text transform="translate(397.22,249.53) scale(0.885,1)" dy="0.36em" fill="#ffffff" stroke="#ffffff" stroke-width="0">0.54</text>
<text transform="translate(414.26,249.53) scale(0.885,1)" dy="0.36em" fill="#ffffff" stroke="#ffffff" stroke-width="0">0.32</text>
<text transform="translate(431.30,249.53) scale(0.885,1)" dy="0.36em" fill="#ffffff" stroke="#ffffff" stroke-width="0">0.47</text>
<text transform="translate(448.34,249.53) scale(0.885,1)" dy="0.36em" fill="#ffffff" stroke="#ffffff" stroke-width="0">0.55</text>
<text transform="translate(465.38,249.53) scale(0.885,1)" dy="0.36em" fill="#ffffff" stroke="#ffffff" stroke-width="0">0.19</text>
<text transform="translate(90.52,265.89) scale(0.885,1)" dy="0.36em" fill="#ffffff" stroke="#ffffff" stroke-width="0">0.06</text>
<text transform="translate(107.56,265.89) scale(0.885,1)" dy="0.36em" fill="#ffffff" stroke="#ffffff" stroke-width="0">-0.02</text>
<text transform="translate(124.60,265.89) scale(0.885,1)" dy="0.36em" fill="#ffffff" stroke="#ffffff" stroke-width="0">0.21</text>
<text transform="translate(141.64,265.89) scale(0.885,1)" dy="0.36em" fill="#ffffff" stroke="#ffffff" stroke-width="0">-0.73</text>
<text transform="translate(158.68,265.89) scale(0.885,1)" dy="0.36em" fill="#ffffff" stroke="#ffffff" stroke-width="0">-0.66</text>
<text transform="translate(175.72,265.89) scale(0.885,1)" dy="0.36em" fill="#ffffff" stroke="#ffffff" stroke-width="0">-0.72</text>
<text transform="translate(192.75,265.89) scale(0.885,1)" dy="0.36em" fill="#ffffff" stroke="#ffffff" stroke-width="0">-0.73</text>
<text transform="translate(209.79,265.89) scale(0.885,1)" dy="0.36em" fill="#ffffff" stroke="#ffffff" stroke-width="0">-0.72</text>
<text transform="translate(226.83,265.89) scale(0.885,1)" dy="0.36em" fill="#ffffff" stroke="#ffffff" stroke-width="0">-0.84</text>
<text transform="translate(243.87,265.89) scale(0.885,1)" dy="0.36em" fill="#ffffff" stroke="#ffffff" stroke-width="0">-0.83</text>
<text transform="translate(260.91,265.89) scale(0.885,1)" dy="0.36em" fill="#ffffff" stroke="#ffffff" stroke-width="0">-0.83</text>
<text transform="translate(277.95,265.89) scale(0.885,1)" dy="0.36em" fill="#ffffff" stroke="#ffffff" stroke-width="0">-0.81</text>
<text transform="translate(294.99,265.89) scale(0.885,1)" dy="0.36em" fill="#ffffff" stroke="#ffffff" stroke-width="0">-0.80</text>
<text transform="translate(312.03,265.89) scale(0.885,1)" dy="0.36em" fill="#ffffff" stroke="#ffffff" stroke-width="0">-0.83</text>
<text transform="translate(329.07,265.89) scale(0.885,1)" dy="0.36em" fill="#ffffff" stroke="#ffffff" stroke-width="0">-0.71</text>
<text transform="translate(346.11,265.89) scale(0.885,1)" dy="0.36em" fill="#262626" stroke="#262626" stroke-width="0">1.00</text>
<text transform="translate(363.15,265.89) scale(0.885,1)" dy="0.36em" fill="#ffffff" stroke="#ffffff" stroke-width="0">-0.60</text>
<text transform="translate(380.18,265.89) scale(0.885,1)" dy="0.36em" fill="#ffffff" stroke="#ffffff" stroke-width="0">-0.01</text>
<text transform="translate(397.22,265.89) scale(0.885,1)" dy="0.36em" fill="#ffffff" stroke="#ffffff" stroke-width="0">-0.67</text>
<text transform="translate(414.26,265.89) scale(0.885,1)" dy="0.36em" fill="#ffffff" stroke="#ffffff" stroke-width="0">-0.43</text>
<text transform="translate(431.30,265.89) scale(0.885,1)" dy="0.36em" fill="#ffffff" stroke="#ffffff" stroke-width="0">-0.60</text>
<text transform="translate(448.34,265.89) scale(0.885,1)" dy="0.36em" fill="#ffffff" stroke="#ffffff" stroke-width="0">-0.69</text>
<text transform="translate(465.38,265.89) scale(0.885,1)" dy="0.36em" fill="#ffffff" stroke="#ffffff" stroke-width="0">-0.36</text>
<text transform="translate(90.52,282.25) scale(0.885,1)" dy="0.36em" fill="#ffffff" stroke="#ffffff" stroke-width="0">-0.38</text>
<text transform="translate(107.56,282.25) scale(0.885,1)" dy="0.36em" fill="#ffffff" stroke="#ffffff" stroke-width="0">-0.11</text>
<text transform="translate(124.60,282.25) scale(0.885,1)" dy="0.36em" fill="#ffffff" stroke="#ffffff" stroke-width="0">-0.40</text>
<text transform="translate(141.64,282.25) scale(0.885,1)" dy="0.36em" fill="#ffffff" stroke="#ffffff" stroke-width="0">0.36</text>
<text transform="translate(158.68,282.25) scale(0.885,1)" dy="0.36em" fill="#ffffff" stroke="#ffffff" stroke-width="0">0.44</text>
<text transform="translate(175.72,282.25) scale(0.885,1)" dy="0.36em" fill="#ffffff" stroke="#ffffff" stroke-width="0">0.34</text>
<text transform="translate(192.75,282.25) scale(0.885,1)" dy="0.36em" fill="#ffffff" stroke="#ffffff" stroke-width="0">0.33</text>
<text transform="translate(209.79,282.25) scale(0.885,1)" dy="0.36em" fill="#ffffff" stroke="#ffffff" stroke-width="0">0.34</text>
<text transform="translate(226.83,282.25) scale(0.885,1)" dy="0.36em" fill="#ffffff" stroke="#ffffff" stroke-width="0">0.45</text>
<text transform="translate(243.87,282.25) scale(0.885,1)" dy="0.36em" fill="#ffffff" stroke="#ffffff" stroke-width="0">0.41</text>
<text transform="translate(260.91,282.25) scale(0.885,1)" dy="0.36em" fill="#ffffff" stroke="#ffffff" stroke-width="0">0.44</text>
<text transform="translate(277.95,282.25) scale(0.885,1)" dy="0.36em" fill="#ffffff" stroke="#ffffff" stroke-width="0">0.40</text>
<text transform="translate(294.99,282.25) scale(0.885,1)" dy="0.36em" fill="#ffffff" stroke="#ffffff" stroke-width="0">0.45</text>
<text transform="translate(312.03,282.25) scale(0.885,1)" dy="0.36em" fill="#ffffff" stroke="#ffffff" stroke-width="0">0.44</text>
<text transform="translate(329.07,282.25) scale(0.885,1)" dy="0.36em" fill="#ffffff" stroke="#ffffff" stroke-width="0">0.37</text>
<text transform="translate(346.11,282.25) scale(0.885,1)" dy="0.36em" fill="#ffffff" stroke="#ffffff" stroke-width="0">-0.60</text>
<text transform="translate(363.15,282.25) scale(0.885,1)" dy="0.36em" fill="#262626" stroke="#262626" stroke-width="0">1.00</text>
<text transform="translate(380.18,282.25) scale(0.885,1)" dy="0.36em" fill="#ffffff" stroke="#ffffff" stroke-width="0">-0.11</text>
<text transform="translate(397.22,282.25) scale(0.885,1)" dy="0.36em" fill="#262626" stroke="#262626" stroke-width="0">0.59</text>
<text transform="translate(414.26,282.25) scale(0.885,1)" dy="0.36em" fill="#ffffff" stroke="#ffffff" stroke-width="0">0.48</text>
<text transform="translate(431.30,282.25) scale(0.885,1)" dy="0.36em" fill="#ffffff" stroke="#ffffff" stroke-width="0">0.24</text>
<text transform="translate(448.34,282.25) scale(0.885,1)" dy="0.36em" fill="#ffffff" stroke="#ffffff" stroke-width="0">0.55</text>
<text transform="translate(465.38,282.25) scale(0.885,1)" dy="0.36em" fill="#ffffff" stroke="#ffffff" stroke-width="0">0.31</text>
<text transform="translate(90.52,298.62) scale(0.885,1)" dy="0.36em" fill="#ffffff" stroke="#ffffff" stroke-width="0">-0.45</text>
<text transform="translate(107.56,298.62) scale(0.885,1)" dy="0.36em" fill="#ffffff" stroke="#ffffff" stroke-width="0">-0.34</text>
<text transform="translate(124.60,298.62) scale(0.885,1)" dy="0.36em" fill="#ffffff" stroke="#ffffff" stroke-width="0">-0.05</text>
<text transform="translate(141.64,298.62) scale(0.885,1)" dy="0.36em" fill="#ffffff" stroke="#ffffff" stroke-width="0">0.10</text>
<text transform="translate(158.68,298.62) scale(0.885,1)" dy="0.36em" fill="#ffffff" stroke="#ffffff" stroke-width="0">0.18</text>
<text transform="translate(175.72,298.62) scale(0.885,1)" dy="0.36em" fill="#ffffff" stroke="#ffffff" stroke-width="0">0.06</text>
<text transform="translate(192.75,298.62) scale(0.885,1)" dy="0.36em" fill="#ffffff" stroke="#ffffff" stroke-width="0">0.20</text>
<text transform="translate(209.79,298.62) scale(0.885,1)" dy="0.36em" fill="#ffffff" stroke="#ffffff" stroke-width="0">0.06</text>
<text transform="translate(226.83,298.62) scale(0.885,1)" dy="0.36em" fill="#ffffff" stroke="#ffffff" stroke-width="0">0.16</text>
<text transform="translate(243.87,298.62) scale(0.885,1)" dy="0.36em" fill="#ffffff" stroke="#ffffff" stroke-width="0">0.17</text>
<text transform="translate(260.91,298.62) scale(0.885,1)" dy="0.36em" fill="#ffffff" stroke="#ffffff" stroke-width="0">0.15</text>
<text transform="translate(277.95,298.62) scale(0.885,1)" dy="0.36em" fill="#ffffff" stroke="#ffffff" stroke-width="0">0.21</text>
<text transform="translate(294.99,298.62) scale(0.885,1)" dy="0.36em" fill="#ffffff" stroke="#ffffff" stroke-width="0">0.16</text>
<text transform="translate(312.03,298.62) scale(0.885,1)" dy="0.36em" fill="#ffffff" stroke="#ffffff" stroke-width="0">0.15</text>
<text transform="translate(329.07,298.62) scale(0.885,1)" dy="0.36em" fill="#ffffff" stroke="#ffffff" stroke-width="0">-0.13</text>
<text transform="translate(346.11,298.62) scale(0.885,1)" dy="0.36em" fill="#ffffff" stroke="#ffffff" stroke-width="0">-0.01</text>
<text transform="translate(363.15,298.62) scale(0.885,1)" dy="0.36em" fill="#ffffff" stroke="#ffffff" stroke-width="0">-0.11</text>
<text transform="translate(380.18,298.62) scale(0.885,1)" dy="0.36em" fill="#262626" stroke="#262626" stroke-width="0">1.00</text>
<text transform="translate(397.22,298.62) scale(0.885,1)" dy="0.36em" fill="#ffffff" stroke="#ffffff" stroke-width="0">0.20</text>
<text transform="translate(414.26,298.62) scale(0.885,1)" dy="0.36em" fill="#ffffff" stroke="#ffffff" stroke-width="0">0.17</text>
<text transform="translate(431.30,298.62) scale(0.885,1)" dy="0.36em" fill="#ffffff" stroke="#ffffff" stroke-width="0">-0.17</text>
<text transform="translate(448.34,298.62) scale(0.885,1)" dy="0.36em" fill="#ffffff" stroke="#ffffff" stroke-width="0">0.27</text>
<text transform="translate(465.38,298.62) scale(0.885,1)" dy="0.36em" fill="#ffffff" stroke="#ffffff" stroke-width="0">0.23</text>
<text transform="translate(90.52,314.98) scale(0.885,1)" dy="0.36em" fill="#ffffff" stroke="#ffffff" stroke-width="0">-0.41</text>
<text transform="translate(107.56,314.98) scale(0.885,1)" dy="0.36em" fill="#ffffff" stroke="#ffffff" stroke-width="0">-0.08</text>
<text transform="translate(124.60,314.98) scale(0.885,1)" dy="0.36em" fill="#ffffff" stroke="#ffffff" stroke-width="0">-0.39</text>
<text transform="translate(141.64,314.98) scale(0.885,1)" dy="0.36em" fill="#262626" stroke="#262626" stroke-width="0">0.69</text>
<text transform="translate(158.68,314.98) scale(0.885,1)" dy="0.36em" fill="#262626" stroke="#262626" stroke-width="0">0.74</text>
<text transform="translate(175.72,314.98) scale(0.885,1)" dy="0.36em" fill="#262626" stroke="#262626" stroke-width="0">0.65</text>
<text transform="translate(192.75,314.98) scale(0.885,1)" dy="0.36em" fill="#262626" stroke="#262626" stroke-width="0">0.72</text>
<text transform="translate(209.79,314.98) scale(0.885,1)" dy="0.36em" fill="#262626" stroke="#262626" stroke-width="0">0.65</text>
<text transform="translate(226.83,314.98) scale(0.885,1)" dy="0.36em" fill="#262626" stroke="#262626" stroke-width="0">0.65</text>
<text transform="translate(243.87,314.98) scale(0.885,1)" dy="0.36em" fill="#262626" stroke="#262626" stroke-width="0">0.65</text>
<text transform="translate(260.91,314.98) scale(0.885,1)" dy="0.36em" fill="#262626" stroke="#262626" stroke-width="0">0.61</text>
<text transform="translate(277.95,314.98) scale(0.885,1)" dy="0.36em" fill="#262626" stroke="#262626" stroke-width="0">0.65</text>
<text transform="translate(294.99,314.98) scale(0.885,1)" dy="0.36em" fill="#262626" stroke="#262626" stroke-width="0">0.67</text>
<text transform="translate(312.03,314.98) scale(0.885,1)" dy="0.36em" fill="#262626" stroke="#262626" stroke-width="0">0.61</text>
<text transform="translate(329.07,314.98) scale(0.885,1)" dy="0.36em" fill="#ffffff" stroke="#ffffff" stroke-width="0">0.54</text>
<text transform="translate(346.11,314.98) scale(0.885,1)" dy="0.36em" fill="#ffffff" stroke="#ffffff" stroke-width="0">-0.67</text>
<text transform="translate(363.15,314.98) scale(0.885,1)" dy="0.36em" fill="#262626" stroke="#262626" stroke-width="0">0.59</text>
<text transform="translate(380.18,314.98) scale(0.885,1)" dy="0.36em" fill="#ffffff" stroke="#ffffff" stroke-width="0">0.20</text>
<text transform="translate(397.22,314.98) scale(0.885,1)" dy="0.36em" fill="#262626" stroke="#262626" stroke-width="0">1.00</text>
<text transform="translate(414.26,314.98) scale(0.885,1)" dy="0.36em" fill="#262626" stroke="#262626" stroke-width="0">0.65</text>
<text transform="translate(431.30,314.98) scale(0.885,1)" dy="0.36em" fill="#ffffff" stroke="#ffffff" stroke-width="0">0.50</text>
<text transform="translate(448.34,314.98) scale(0.885,1)" dy="0.36em" fill="#262626" stroke="#262626" stroke-width="0">0.96</text>
<text transform="translate(465.38,314.98) scale(0.885,1)" dy="0.36em" fill="#ffffff" stroke="#ffffff" stroke-width="0">0.56</text>
<text transform="translate(90.52,331.34) scale(0.885,1)" dy="0.36em" fill="#ffffff" stroke="#ffffff" stroke-width="0">-0.25</text>
<text transform="translate(107.56,331.34) scale(0.885,1)" dy="0.36em" fill="#ffffff" stroke="#ffffff" stroke-width="0">-0.00</text>
<text transform="translate(124.60,331.34) scale(0.885,1)" dy="0.36em" fill="#ffffff" stroke="#ffffff" stroke-width="0">-0.24</text>
<text transform="translate(141.64,331.34) scale(0.885,1)" dy="0.36em" fill="#ffffff" stroke="#ffffff" stroke-width="0">0.39</text>
<text transform="translate(158.68,331.34) scale(0.885,1)" dy="0.36em" fill="#ffffff" stroke="#ffffff" stroke-width="0">0.39</text>
<text transform="translate(175.72,331.34) scale(0.885,1)" dy="0.36em" fill="#ffffff" stroke="#ffffff" stroke-width="0">0.32</text>
<text transform="translate(192.75,331.34) scale(0.885,1)" dy="0.36em" fill="#ffffff" stroke="#ffffff" stroke-width="0">0.41</text>
<text transform="translate(209.79,331.34) scale(0.885,1)" dy="0.36em" fill="#ffffff" stroke="#ffffff" stroke-width="0">0.32</text>
<text transform="translate(226.83,331.34) scale(0.885,1)" dy="0.36em" fill="#ffffff" stroke="#ffffff" stroke-width="0">0.45</text>
<text transform="translate(243.87,331.34) scale(0.885,1)" dy="0.36em" fill="#ffffff" stroke="#ffffff" stroke-width="0">0.45</text>
<text transform="translate(260.91,331.34) scale(0.885,1)" dy="0.36em" fill="#ffffff" stroke="#ffffff" stroke-width="0">0.40</text>
<text transform="translate(277.95,331.34) scale(0.885,1)" dy="0.36em" fill="#ffffff" stroke="#ffffff" stroke-width="0">0.46</text>
<text transform="translate(294.99,331.34) scale(0.885,1)" dy="0.36em" fill="#ffffff" stroke="#ffffff" stroke-width="0">0.50</text>
<text transform="translate(312.03,331.34) scale(0.885,1)" dy="0.36em" fill="#ffffff" stroke="#ffffff" stroke-width="0">0.40</text>
<text transform="translate(329.07,331.34) scale(0.885,1)" dy="0.36em" fill="#ffffff" stroke="#ffffff" stroke-width="0">0.32</text>
<text transform="translate(346.11,331.34) scale(0.885,1)" dy="0.36em" fill="#ffffff" stroke="#ffffff" stroke-width="0">-0.43</text>
<text transform="translate(363.15,331.34) scale(0.885,1)" dy="0.36em" fill="#ffffff" stroke="#ffffff" stroke-width="0">0.48</text>
<text transform="translate(380.18,331.34) scale(0.885,1)" dy="0.36em" fill="#ffffff" stroke="#ffffff" stroke-width="0">0.17</text>
<text transform="translate(397.22,331.34) scale(0.885,1)" dy="0.36em" fill="#262626" stroke="#262626" stroke-width="0">0.65</text>
<text transform="translate(414.26,331.34) scale(0.885,1)" dy="0.36em" fill="#262626" stroke="#262626" stroke-width="0">1.00</text>
<text transform="translate(431.30,331.34) scale(0.885,1)" dy="0.36em" fill="#ffffff" stroke="#ffffff" stroke-width="0">0.52</text>
<text transform="translate(448.34,331.34) scale(0.885,1)" dy="0.36em" fill="#262626" stroke="#262626" stroke-width="0">0.64</text>
<text transform="translate(465.38,331.34) scale(0.885,1)" dy="0.36em" fill="#ffffff" stroke="#ffffff" stroke-width="0">0.45</text>
<text transform="translate(90.52,347.70) scale(0.885,1)" dy="0.36em" fill="#ffffff" stroke="#ffffff" stroke-width="0">0.18</text>
<text transform="translate(107.56,347.70) scale(0.885,1)" dy="0.36em" fill="#ffffff" stroke="#ffffff" stroke-width="0">0.18</text>
<text transform="translate(124.60,347.70) scale(0.885,1)" dy="0.36em" fill="#ffffff" stroke="#ffffff" stroke-width="0">-0.10</text>
<text transform="translate(141.64,347.70) scale(0.885,1)" dy="0.36em" fill="#ffffff" stroke="#ffffff" stroke-width="0">0.43</text>
<text transform="translate(158.68,347.70) scale(0.885,1)" dy="0.36em" fill="#ffffff" stroke="#ffffff" stroke-width="0">0.31</text>
<text transform="translate(175.72,347.70) scale(0.885,1)" dy="0.36em" fill="#ffffff" stroke="#ffffff" stroke-width="0">0.43</text>
<text transform="translate(192.75,347.70) scale(0.885,1)" dy="0.36em" fill="#ffffff" stroke="#ffffff" stroke-width="0">0.41</text>
<text transform="translate(209.79,347.70) scale(0.885,1)" dy="0.36em" fill="#ffffff" stroke="#ffffff" stroke-width="0">0.43</text>
<text transform="translate(226.83,347.70) scale(0.885,1)" dy="0.36em" fill="#ffffff" stroke="#ffffff" stroke-width="0">0.51</text>
<text transform="translate(243.87,347.70) scale(0.885,1)" dy="0.36em" fill="#ffffff" stroke="#ffffff" stroke-width="0">0.51</text>
<text transform="translate(260.91,347.70) scale(0.885,1)" dy="0.36em" fill="#ffffff" stroke="#ffffff" stroke-width="0">0.47</text>
<text transform="translate(277.95,347.70) scale(0.885,1)" dy="0.36em" fill="#ffffff" stroke="#ffffff" stroke-width="0">0.50</text>
<text transform="translate(294.99,347.70) scale(0.885,1)" dy="0.36em" fill="#ffffff" stroke="#ffffff" stroke-width="0">0.54</text>
<text transform="translate(312.03,347.70) scale(0.885,1)" dy="0.36em" fill="#ffffff" stroke="#ffffff" stroke-width="0">0.47</text>
<text transform="translate(329.07,347.70) scale(0.885,1)" dy="0.36em" fill="#ffffff" stroke="#ffffff" stroke-width="0">0.47</text>
<text transform="translate(346.11,347.70) scale(0.885,1)" dy="0.36em" fill="#ffffff" stroke="#ffffff" stroke-width="0">-0.60</text>
<text transform="translate(363.15,347.70) scale(0.885,1)" dy="0.36em" fill="#ffffff" stroke="#ffffff" stroke-width="0">0.24</text>
<text transform="translate(380.18,347.70) scale(0.885,1)" dy="0.36em" fill="#ffffff" stroke="#ffffff" stroke-width="0">-0.17</text>
<text transform="translate(397.22,347.70) scale(0.885,1)" dy="0.36em" fill="#ffffff" stroke="#ffffff" stroke-width="0">0.50</text>
<text transform="translate(414.26,347.70) scale(0.885,1)" dy="0.36em" fill="#ffffff" stroke="#ffffff" stroke-width="0">0.52</text>
<text transform="translate(431.30,347.70) scale(0.885,1)" dy="0.36em" fill="#262626" stroke="#262626" stroke-width="0">1.00</text>
<text transform="translate(448.34,347.70) scale(0.885,1)" dy="0.36em" fill="#ffffff" stroke="#ffffff" stroke-width="0">0.48</text>
<text transform="translate(465.38,347.70) scale(0.885,1)" dy="0.36em" fill="#ffffff" stroke="#ffffff" stroke-width="0">0.34</text>
<text transform="translate(90.52,364.06) scale(0.885,1)" dy="0.36em" fill="#ffffff" stroke="#ffffff" stroke-width="0">-0.37</text>
<text transform="translate(107.56,364.06) scale(0.885,1)" dy="0.36em" fill="#ffffff" stroke="#ffffff" stroke-width="0">-0.07</text>
<text transform="translate(124.60,364.06) scale(0.885,1)" dy="0.36em" fill="#ffffff" stroke="#ffffff" stroke-width="0">-0.34</text>
<text transform="translate(141.64,364.06) scale(0.885,1)" dy="0.36em" fill="#262626" stroke="#262626" stroke-width="0">0.72</text>
<text transform="translate(158.68,364.06) scale(0.885,1)" dy="0.36em" fill="#262626" stroke="#262626" stroke-width="0">0.75</text>
<text transform="translate(175.72,364.06) scale(0.885,1)" dy="0.36em" fill="#262626" stroke="#262626" stroke-width="0">0.67</text>
<text transform="translate(192.75,364.06) scale(0.885,1)" dy="0.36em" fill="#262626" stroke="#262626" stroke-width="0">0.77</text>
<text transform="translate(209.79,364.06) scale(0.885,1)" dy="0.36em" fill="#262626" stroke="#262626" stroke-width="0">0.67</text>
<text transform="translate(226.83,364.06) scale(0.885,1)" dy="0.36em" fill="#262626" stroke="#262626" stroke-width="0">0.69</text>
<text transform="translate(243.87,364.06) scale(0.885,1)" dy="0.36em" fill="#262626" stroke="#262626" stroke-width="0">0.70</text>
<text transform="translate(260.91,364.06) scale(0.885,1)" dy="0.36em" fill="#262626" stroke="#262626" stroke-width="0">0.65</text>
<text transform="translate(277.95,364.06) scale(0.885,1)" dy="0.36em" fill="#262626" stroke="#262626" stroke-width="0">0.70</text>
<text transform="translate(294.99,364.06) scale(0.885,1)" dy="0.36em" fill="#262626" stroke="#262626" stroke-width="0">0.72</text>
<text transform="translate(312.03,364.06) scale(0.885,1)" dy="0.36em" fill="#262626" stroke="#262626" stroke-width="0">0.65</text>
<text transform="translate(329.07,364.06) scale(0.885,1)" dy="0.36em" fill="#ffffff" stroke="#ffffff" stroke-width="0">0.55</text>
<text transform="translate(346.11,364.06) scale(0.885,1)" dy="0.36em" fill="#ffffff" stroke="#ffffff" stroke-width="0">-0.69</text>
<text transform="translate(363.15,364.06) scale(0.885,1)" dy="0.36em" fill="#ffffff" stroke="#ffffff" stroke-width="0">0.55</text>
<text transform="translate(380.18,364.06) scale(0.885,1)" dy="0.36em" fill="#ffffff" stroke="#ffffff" stroke-width="0">0.27</text>
<text transform="translate(397.22,364.06) scale(0.885,1)" dy="0.36em" fill="#262626" stroke="#262626" stroke-width="0">0.96</text>
<text transform="translate(414.26,364.06) scale(0.885,1)" dy="0.36em" fill="#262626" stroke="#262626" stroke-width="0">0.64</text>
<text transform="translate(431.30,364.06) scale(0.885,1)" dy="0.36em" fill="#ffffff" stroke="#ffffff" stroke-width="0">0.48</text>
<text transform="translate(448.34,364.06) scale(0.885,1)" dy="0.36em" fill="#262626" stroke="#262626" stroke-width="0">1.00</text>
<text transform="translate(465.38,364.06) scale(0.885,1)" dy="0.36em" fill="#ffffff" stroke="#ffffff" stroke-width="0">0.53</text>
<text transform="translate(90.52,380.42) scale(0.885,1)" dy="0.36em" fill="#ffffff" stroke="#ffffff" stroke-width="0">-0.38</text>
<text transform="translate(107.56,380.42) scale(0.885,1)" dy="0.36em" fill="#ffffff" stroke="#ffffff" stroke-width="0">-0.17</text>
<text transform="translate(124.60,380.42) scale(0.885,1)" dy="0.36em" fill="#ffffff" stroke="#ffffff" stroke-width="0">-0.38</text>
<text transform="translate(141.64,380.42) scale(0.885,1)" dy="0.36em" fill="#ffffff" stroke="#ffffff" stroke-width="0">0.28</text>
<text transform="translate(158.68,380.42) scale(0.885,1)" dy="0.36em" fill="#ffffff" stroke="#ffffff" stroke-width="0">0.34</text>
<text transform="translate(175.72,380.42) scale(0.885,1)" dy="0.36em" fill="#ffffff" stroke="#ffffff" stroke-width="0">0.27</text>
<text transform="translate(192.75,380.42) scale(0.885,1)" dy="0.36em" fill="#ffffff" stroke="#ffffff" stroke-width="0">0.29</text>
<text transform="translate(209.79,380.42) scale(0.885,1)" dy="0.36em" fill="#ffffff" stroke="#ffffff" stroke-width="0">0.27</text>
<text transform="translate(226.83,380.42) scale(0.885,1)" dy="0.36em" fill="#ffffff" stroke="#ffffff" stroke-width="0">0.37</text>
<text transform="translate(243.87,380.42) scale(0.885,1)" dy="0.36em" fill="#ffffff" stroke="#ffffff" stroke-width="0">0.35</text>
<text transform="translate(260.91,380.42) scale(0.885,1)" dy="0.36em" fill="#ffffff" stroke="#ffffff" stroke-width="0">0.35</text>
<text transform="translate(277.95,380.42) scale(0.885,1)" dy="0.36em" fill="#ffffff" stroke="#ffffff" stroke-width="0">0.35</text>
<text transform="translate(294.99,380.42) scale(0.885,1)" dy="0.36em" fill="#ffffff" stroke="#ffffff" stroke-width="0">0.36</text>
<text transform="translate(312.03,380.42) scale(0.885,1)" dy="0.36em" fill="#ffffff" stroke="#ffffff" stroke-width="0">0.35</text>
<text transform="translate(329.07,380.42) scale(0.885,1)" dy="0.36em" fill="#ffffff" stroke="#ffffff" stroke-width="0">0.19</text>
<text transform="translate(346.11,380.42) scale(0.885,1)" dy="0.36em" fill="#ffffff" stroke="#ffffff" stroke-width="0">-0.36</text>
<text transform="translate(363.15,380.42) scale(0.885,1)" dy="0.36em" fill="#ffffff" stroke="#ffffff" stroke-width="0">0.31</text>
<text transform="translate(380.18,380.42) scale(0.885,1)" dy="0.36em" fill="#ffffff" stroke="#ffffff" stroke-width="0">0.23</text>
<text transform="translate(397.22,380.42) scale(0.885,1)" dy="0.36em" fill="#ffffff" stroke="#ffffff" stroke-width="0">0.56</text>
<text transform="translate(414.26,380.42) scale(0.885,1)" dy="0.36em" fill="#ffffff" stroke="#ffffff" stroke-width="0">0.45</text>
<text transform="translate(431.30,380.42) scale(0.885,1)" dy="0.36em" fill="#ffffff" stroke="#ffffff" stroke-width="0">0.34</text>
<text transform="translate(448.34,380.42) scale(0.885,1)" dy="0.36em" fill="#ffffff" stroke="#ffffff" stroke-width="0">0.53</text>
<text transform="translate(465.38,380.42) scale(0.885,1)" dy="0.36em" fill="#262626" stroke="#262626" stroke-width="0">1.00</text>
</g>
<g font-family="DejaVu Sans" font-size="7.08" fill="#262626" stroke="#262626" stroke-width="0.15" text-anchor="end">
<text transform="translate(76.80,20.78) scale(1.044,1)" dy="0.36em">MDVP:Fo(Hz)</text>
<text transform="translate(76.80,37.14) scale(1.044,1)" dy="0.36em">MDVP:Fhi(Hz)</text>
<text transform="translate(76.80,53.50) scale(1.044,1)" dy="0.36em">MDVP:Flo(Hz)</text>
<text transform="translate(76.80,69.86) scale(1.044,1)" dy="0.36em">MDVP:Jitter(%)</text>
<text transform="translate(76.80,86.22) scale(1.044,1)" dy="0.36em">MDVP:Jitter(Abs)</text>
<text transform="translate(76.80,102.58) scale(1.044,1)" dy="0.36em">MDVP:RAP</text>
<text transform="translate(76.80,118.95) scale(1.044,1)" dy="0.36em">MDVP:PPQ</text>
<text transform="translate(76.80,135.31) scale(1.044,1)" dy="0.36em">Jitter:DDP</text>
<text transform="translate(76.80,151.67) scale(1.044,1)" dy="0.36em">MDVP:Shimmer</text>
<text transform="translate(76.80,168.03) scale(1.044,1)" dy="0.36em">MDVP:Shimmer(dB)</text>
<text transform="translate(76.80,184.39) scale(1.044,1)" dy="0.36em">Shimmer:APQ3</text>
<text transform="translate(76.80,200.75) scale(1.044,1)" dy="0.36em">Shimmer:APQ5</text>
<text transform="translate(76.80,217.11) scale(1.044,1)" dy="0.36em">MDVP:APQ</text>
<text transform="translate(76.80,233.47) scale(1.044,1)" dy="0.36em">Shimmer:DDA</text>
<text transform="translate(76.80,249.83) scale(1.044,1)" dy="0.36em">NHR</text>
<text transform="translate(76.80,266.19) scale(1.044,1)" dy="0.36em">HNR</text>
<text transform="translate(76.80,282.55) scale(1.044,1)" dy="0.36em">RPDE</text>
<text transform="translate(76.80,298.92) scale(1.044,1)" dy="0.36em">DFA</text>
<text transform="translate(76.80,315.28) scale(1.044,1)" dy="0.36em">spread1</text>
<text transform="translate(76.80,331.64) scale(1.044,1)" dy="0.36em">spread2</text>
<text transform="translate(76.80,348.00) scale(1.044,1)" dy="0.36em">D2</text>
<text transform="translate(76.80,364.36) scale(1.044,1)" dy="0.36em">PPE</text>
<text transform="translate(76.80,380.72) scale(1.044,1)" dy="0.36em">status</text>
</g>
<g stroke="#262626" stroke-width="0.6">
<line x1="79.40" y1="20.48" x2="81.70" y2="20.48"/>
<line x1="79.40" y1="36.84" x2="81.70" y2="36.84"/>
<line x1="79.40" y1="53.20" x2="81.70" y2="53.20"/>
<line x1="79.40" y1="69.56" x2="81.70" y2="69.56"/>
<line x1="79.40" y1="85.92" x2="81.70" y2="85.92"/>
<line x1="79.40" y1="102.28" x2="81.70" y2="102.28"/>
<line x1="79.40" y1="118.65" x2="81.70" y2="118.65"/>
<line x1="79.40" y1="135.01" x2="81.70" y2="135.01"/>
<line x1="79.40" y1="151.37" x2="81.70" y2="151.37"/>
<line x1="79.40" y1="167.73" x2="81.70" y2="167.73"/>
<line x1="79.40" y1="184.09" x2="81.70" y2="184.09"/>
<line x1="79.40" y1="200.45" x2="81.70" y2="200.45"/>
<line x1="79.40" y1="216.81" x2="81.70" y2="216.81"/>
<line x1="79.40" y1="233.17" x2="81.70" y2="233.17"/>
<line x1="79.40" y1="249.53" x2="81.70" y2="249.53"/>
<line x1="79.40" y1="265.89" x2="81.70" y2="265.89"/>
<line x1="79.40" y1="282.25" x2="81.70" y2="282.25"/>
<line x1="79.40" y1="298.62" x2="81.70" y2="298.62"/>
<line x1="79.40" y1="314.98" x2="81.70" y2="314.98"/>
<line x1="79.40" y1="331.34" x2="81.70" y2="331.34"/>
<line x1="79.40" y1="347.70" x2="81.70" y2="347.70"/>
<line x1="79.40" y1="364.06" x2="81.70" y2="364.06"/>
<line x1="79.40" y1="380.42" x2="81.70" y2="380.42"/>
<line x1="90.52" y1="389.30" x2="90.52" y2="391.60"/>
<line x1="107.56" y1="389.30" x2="107.56" y2="391.60"/>
<line x1="124.60" y1="389.30" x2="124.60" y2="391.60"/>
<line x1="141.64" y1="389.30" x2="141.64" y2="391.60"/>
<line x1="158.68" y1="389.30" x2="158.68" y2="391.60"/>
<line x1="175.72" y1="389.30" x2="175.72" y2="391.60"/>
<line x1="192.75" y1="389.30" x2="192.75" y2="391.60"/>
<line x1="209.79" y1="389.30" x2="209.79" y2="391.60"/>
<line x1="226.83" y1="389.30" x2="226.83" y2="391.60"/>
<line x1="243.87" y1="389.30" x2="243.87" y2="391.60"/>
<line x1="260.91" y1="389.30" x2="260.91" y2="391.60"/>
<line x1="277.95" y1="389.30" x2="277.95" y2="391.60"/>
<line x1="294.99" y1="389.30" x2="294.99" y2="391.60"/>
<line x1="312.03" y1="389.30" x2="312.03" y2="391.60"/>
<line x1="329.07" y1="389.30" x2="329.07" y2="391.60"/>
<line x1="346.11" y1="389.30" x2="346.11" y2="391.60"/>
<line x1="363.15" y1="389.30" x2="363.15" y2="391.60"/>
<line x1="380.18" y1="389.30" x2="380.18" y2="391.60"/>
<line x1="397.22" y1="389.30" x2="397.22" y2="391.60"/>
<line x1="414.26" y1="389.30" x2="414.26" y2="391.60"/>
<line x1="431.30" y1="389.30" x2="431.30" y2="391.60"/>
<line x1="448.34" y1="389.30" x2="448.34" y2="391.60"/>
<line x1="465.38" y1="389.30" x2="465.38" y2="391.60"/>
</g>
<g font-family="DejaVu Sans" font-size="7.08" fill="#262626" stroke="#262626" stroke-width="0.15" text-anchor="end">
<text transform="translate(90.52,396.00) rotate(-90) scale(1,1.044)" dy="0.36em">MDVP:Fo(Hz)</text>
<text transform="translate(107.56,396.00) rotate(-90) scale(1,1.044)" dy="0.36em">MDVP:Fhi(Hz)</text>
<text transform="translate(124.60,396.00) rotate(-90) scale(1,1.044)" dy="0.36em">MDVP:Flo(Hz)</text>
<text transform="translate(141.64,396.00) rotate(-90) scale(1,1.044)" dy="0.36em">MDVP:Jitter(%)</text>
<text transform="translate(158.68,396.00) rotate(-90) scale(1,1.044)" dy="0.36em">MDVP:Jitter(Abs)</text>
<text transform="translate(175.72,396.00) rotate(-90) scale(1,1.044)" dy="0.36em">MDVP:RAP</text>
<text transform="translate(192.75,396.00) rotate(-90) scale(1,1.044)" dy="0.36em">MDVP:PPQ</text>
<text transform="translate(209.79,396.00) rotate(-90) scale(1,1.044)" dy="0.36em">Jitter:DDP</text>
<text transform="translate(226.83,396.00) rotate(-90) scale(1,1.044)" dy="0.36em">MDVP:Shimmer</text>
<text transform="translate(243.87,396.00) rotate(-90) scale(1,1.044)" dy="0.36em">MDVP:Shimmer(dB)</text>
<text transform="translate(260.91,396.00) rotate(-90) scale(1,1.044)" dy="0.36em">Shimmer:APQ3</text>
<text transform="translate(277.95,396.00) rotate(-90) scale(1,1.044)" dy="0.36em">Shimmer:APQ5</text>
<text transform="translate(294.99,396.00) rotate(-90) scale(1,1.044)" dy="0.36em">MDVP:APQ</text>
<text transform="translate(312.03,396.00) rotate(-90) scale(1,1.044)" dy="0.36em">Shimmer:DDA</text>
<text transform="translate(329.07,396.00) rotate(-90) scale(1,1.044)" dy="0.36em">NHR</text>
<text transform="translate(346.11,396.00) rotate(-90) scale(1,1.044)" dy="0.36em">HNR</text>
<text transform="translate(363.15,396.00) rotate(-90) scale(1,1.044)" dy="0.36em">RPDE</text>
<text transform="translate(380.18,396.00) rotate(-90) scale(1,1.044)" dy="0.36em">DFA</text>
<text transform="translate(397.22,396.00) rotate(-90) scale(1,1.044)" dy="0.36em">spread1</text>
<text transform="translate(414.26,396.00) rotate(-90) scale(1,1.044)" dy="0.36em">spread2</text>
<text transform="translate(431.30,396.00) rotate(-90) scale(1,1.044)" dy="0.36em">D2</text>
<text transform="translate(448.34,396.00) rotate(-90) scale(1,1.044)" dy="0.36em">PPE</text>
<text transform="translate(465.38,396.00) rotate(-90) scale(1,1.044)" dy="0.36em">status</text>
</g>
<defs><linearGradient id="cb" x1="0" y1="0" x2="0" y2="1"><stop offset="0.0000" stop-color="#faebdd"/><stop offset="0.0156" stop-color="#fae6d6"/><stop offset="0.0312" stop-color="#f9e0cd"/><stop offset="0.0469" stop-color="#f8dac5"/><stop offset="0.0625" stop-color="#f8d4bc"/><stop offset="0.0781" stop-color="#f7cfb3"/><stop offset="0.0938" stop-color="#f7c9aa"/><stop offset="0.1094" stop-color="#f7c2a2"/><stop offset="0.1250" stop-color="#f6bc99"/><stop offset="0.1406" stop-color="#f6b691"/><stop offset="0.1562" stop-color="#f6b089"/><stop offset="0.1719" stop-color="#f6a981"/><stop offset="0.1875" stop-color="#f6a37a"/><stop offset="0.2031" stop-color="#f69c73"/><stop offset="0.2188" stop-color="#f5966c"/><stop offset="0.2344" stop-color="#f58f66"/><stop offset="0.2500" stop-color="#f58860"/><stop offset="0.2656" stop-color="#f4815a"/><stop offset="0.2812" stop-color="#f47a54"/><stop offset="0.2969" stop-color="#f3734e"/><stop offset="0.3125" stop-color="#f26b49"/><stop offset="0.3281" stop-color="#f16445"/><stop offset="0.3438" stop-color="#f05c42"/><stop offset="0.3594" stop-color="#ee543f"/><stop offset="0.3750" stop-color="#ec4c3e"/><stop offset="0.3906" stop-color="#ea443e"/><stop offset="0.4062" stop-color="#e73d3f"/><stop offset="0.4219" stop-color="#e33641"/><stop offset="0.4375" stop-color="#df2f44"/><stop offset="0.4531" stop-color="#db2946"/><stop offset="0.4688" stop-color="#d62449"/><stop offset="0.4844" stop-color="#d11f4c"/><stop offset="0.5000" stop-color="#cb1b4f"/><stop offset="0.5156" stop-color="#c51852"/><stop offset="0.5312" stop-color="#bf1654"/><stop offset="0.5469" stop-color="#b91657"/><stop offset="0.5625" stop-color="#b21758"/><stop offset="0.5781" stop-color="#ab185a"/><stop offset="0.5938" stop-color="#a4195b"/><stop offset="0.6094" stop-color="#9e1a5b"/><stop offset="0.6250" stop-color="#971c5b"/><stop offset="0.6406" stop-color="#901d5b"/><stop offset="0.6562" stop-color="#891e5b"/><stop offset="0.6719" stop-color="#821e5a"/><stop offset="0.6875" stop-color="#7b1f59"/><stop offset="0.7031" stop-color="#751f58"/><stop offset="0.7188" stop-color="#6e1f57"/><stop offset="0.7344" stop-color="#681f55"/><stop offset="0.7500" stop-color="#611f53"/><stop offset="0.7656" stop-color="#5b1e51"/><stop offset="0.7812" stop-color="#541e4e"/><stop offset="0.7969" stop-color="#4e1d4b"/><stop offset="0.8125" stop-color="#481c48"/><stop offset="0.8281" stop-color="#421b45"/><stop offset="0.8438" stop-color="#3c1a42"/><stop offset="0.8594" stop-color="#35193e"/><stop offset="0.8750" stop-color="#30173a"/><stop offset="0.8906" stop-color="#2a1636"/><stop offset="0.9062" stop-color="#241432"/><stop offset="0.9219" stop-color="#1e122d"/><stop offset="0.9375" stop-color="#180f29"/><stop offset="0.9531" stop-color="#130d25"/><stop offset="0.9688" stop-color="#0d0a21"/><stop offset="0.9844" stop-color="#07071d"/><stop offset="1.0000" stop-color="#03051a"/></linearGradient></defs>
<rect x="499.0" y="9.85" width="19.70" height="381.65" fill="url(#cb)"/>
<g font-family="DejaVu Sans" font-size="7.08" fill="#262626">
<line x1="518.70" y1="9.85" x2="521.00" y2="9.85" stroke="#262626" stroke-width="0.6"/>
<text transform="translate(524.40,10.35)" dy="0.36em">1.00</text>
<line x1="518.70" y1="61.84" x2="521.00" y2="61.84" stroke="#262626" stroke-width="0.6"/>
<text transform="translate(524.40,62.34)" dy="0.36em">0.75</text>
<line x1="518.70" y1="113.82" x2="521.00" y2="113.82" stroke="#262626" stroke-width="0.6"/>
<text transform="translate(524.40,114.32)" dy="0.36em">0.50</text>
<line x1="518.70" y1="165.81" x2="521.00" y2="165.81" stroke="#262626" stroke-width="0.6"/>
<text transform="translate(524.40,166.31)" dy="0.36em">0.25</text>
<line x1="518.70" y1="217.80" x2="521.00" y2="217.80" stroke="#262626" stroke-width="0.6"/>
<text transform="translate(524.40,218.30)" dy="0.36em">0.00</text>
<line x1="518.70" y1="269.79" x2="521.00" y2="269.79" stroke="#262626" stroke-width="0.6"/>
<text transform="translate(524.40,270.29)" dy="0.36em">−0.25</text>
<line x1="518.70" y1="321.77" x2="521.00" y2="321.77" stroke="#262626" stroke-width="0.6"/>
<text transform="translate(524.40,322.27)" dy="0.36em">−0.50</text>
<line x1="518.70" y1="373.76" x2="521.00" y2="373.76" stroke="#262626" stroke-width="0.6"/>
<text transform="translate(524.40,374.26)" dy="0.36em">−0.75</text>
</g>
</svg>
</body></html>
